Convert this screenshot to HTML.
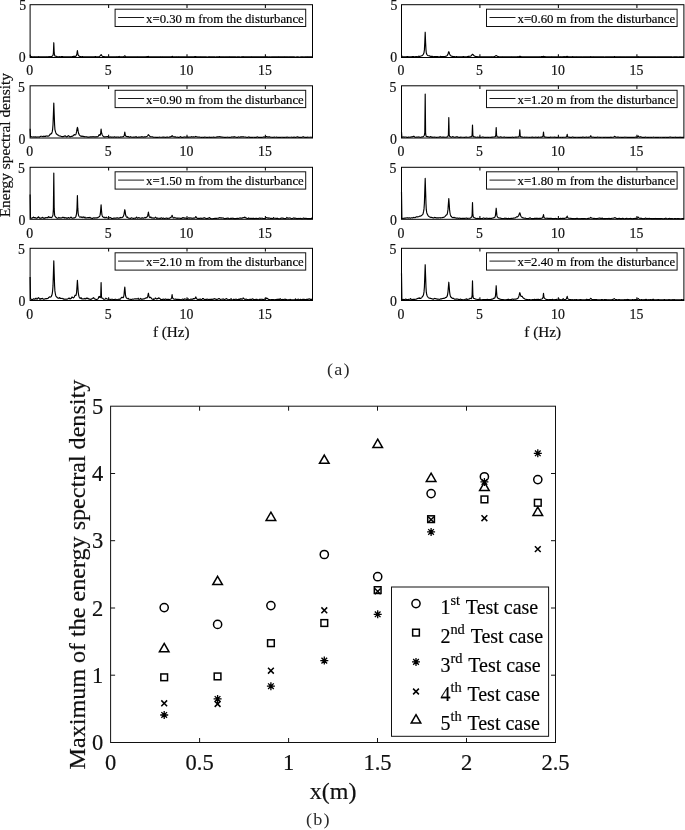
<!DOCTYPE html>
<html lang="en"><head><meta charset="utf-8"><title>Energy spectral density</title>
<style>
html,body{margin:0;padding:0;background:#fff}
body{width:685px;height:830px;overflow:hidden}
svg{display:block}
svg text{font-family:"Liberation Serif","DejaVu Serif",serif;stroke:#000;stroke-width:.18px}
svg text.cap{stroke:none}
</style></head><body>
<svg width="685" height="830" viewBox="0 0 685 830">
<rect width="685" height="830" fill="#fff"/>
<g>
<polyline points="30.1,54.6 30.5,56.7 30.9,56.7 31.3,56.6 31.7,56.8 32.1,56.8 32.5,56.9 32.9,56.9 33.3,56.9 33.6,56.8 34.0,56.8 34.4,56.7 34.8,56.8 35.2,56.8 35.6,56.7 36.0,56.7 36.4,56.7 36.8,56.7 37.2,56.8 37.6,56.8 38.0,56.8 38.4,56.7 38.8,56.6 39.2,56.7 39.6,56.8 40.0,56.9 40.4,56.9 40.7,56.9 41.1,56.9 41.5,56.9 41.9,56.9 42.3,56.9 42.7,56.9 43.1,56.9 43.5,56.9 43.9,56.9 44.3,56.8 44.7,56.7 45.1,56.7 45.5,56.7 45.9,56.8 46.3,56.8 46.7,56.7 47.1,56.8 47.5,56.8 47.8,56.8 48.2,56.8 48.6,56.8 49.0,56.6 49.4,56.6 49.8,56.7 50.2,56.7 50.6,56.6 51.0,56.6 51.4,56.6 51.8,56.4 52.2,56.1 52.6,55.9 53.0,55.3 53.4,53.0 53.8,42.7 54.2,52.9 54.6,55.2 54.9,55.9 55.3,56.1 55.7,56.3 56.1,56.4 56.5,56.4 56.9,56.5 57.3,56.7 57.7,56.8 58.1,56.8 58.5,56.8 58.9,56.8 59.3,56.7 59.7,56.6 60.1,56.7 60.5,56.8 60.9,56.7 61.3,56.6 61.7,56.7 62.0,56.6 62.4,56.7 62.8,56.6 63.2,56.7 63.6,56.8 64.0,56.8 64.4,56.8 64.8,56.8 65.2,56.9 65.6,56.8 66.0,56.7 66.4,56.7 66.8,56.8 67.2,56.8 67.6,56.8 68.0,56.7 68.4,56.7 68.8,56.7 69.1,56.8 69.5,56.8 69.9,56.8 70.3,56.7 70.7,56.8 71.1,56.8 71.5,56.8 71.9,56.7 72.3,56.6 72.7,56.5 73.1,56.5 73.5,56.4 73.9,56.3 74.3,56.3 74.7,56.4 75.1,56.4 75.5,56.4 75.9,56.2 76.2,55.9 76.6,55.1 77.0,53.2 77.4,50.6 77.8,53.3 78.2,55.1 78.6,55.7 79.0,56.1 79.4,56.3 79.8,56.5 80.2,56.6 80.6,56.5 81.0,56.6 81.4,56.7 81.8,56.7 82.2,56.7 82.6,56.5 83.0,56.7 83.3,56.7 83.7,56.8 84.1,56.8 84.5,56.8 84.9,56.8 85.3,56.7 85.7,56.7 86.1,56.8 86.5,56.8 86.9,56.8 87.3,56.8 87.7,56.9 88.1,56.9 88.5,56.9 88.9,56.9 89.3,56.8 89.7,56.9 90.0,56.8 90.4,56.8 90.8,56.8 91.2,56.8 91.6,56.9 92.0,56.9 92.4,56.8 92.8,56.8 93.2,56.9 93.6,56.9 94.0,56.9 94.4,56.8 94.8,56.8 95.2,56.6 95.6,56.6 96.0,56.7 96.4,56.8 96.8,56.8 97.1,56.8 97.5,56.8 97.9,56.8 98.3,56.7 98.7,56.7 99.1,56.6 99.5,56.4 99.9,56.1 100.3,55.8 100.7,55.2 101.1,54.6 101.5,55.1 101.9,55.8 102.3,56.2 102.7,56.4 103.1,56.5 103.5,56.6 103.9,56.6 104.2,56.6 104.6,56.7 105.0,56.7 105.4,56.8 105.8,56.7 106.2,56.7 106.6,56.8 107.0,56.9 107.4,56.9 107.8,56.8 108.2,56.8 108.6,56.8 109.0,56.7 109.4,56.7 109.8,56.7 110.2,56.8 110.6,56.8 111.0,56.7 111.3,56.7 111.7,56.7 112.1,56.8 112.5,56.8 112.9,56.8 113.3,56.8 113.7,56.8 114.1,56.8 114.5,56.8 114.9,56.9 115.3,56.9 115.7,56.9 116.1,56.9 116.5,56.7 116.9,56.8 117.3,56.7 117.7,56.8 118.1,56.8 118.4,56.8 118.8,56.6 119.2,56.4 119.6,56.7 120.0,56.8 120.4,56.9 120.8,56.8 121.2,56.8 121.6,56.8 122.0,56.8 122.4,56.8 122.8,56.8 123.2,56.7 123.6,56.6 124.0,56.4 124.4,56.1 124.8,55.8 125.2,56.1 125.5,56.5 125.9,56.7 126.3,56.7 126.7,56.8 127.1,56.8 127.5,56.8 127.9,56.9 128.3,56.9 128.7,56.9 129.1,56.9 129.5,56.9 129.9,56.8 130.3,56.8 130.7,56.8 131.1,56.9 131.5,56.9 131.9,56.9 132.3,56.8 132.6,56.8 133.0,56.8 133.4,56.8 133.8,56.9 134.2,56.9 134.6,56.9 135.0,56.9 135.4,56.9 135.8,56.9 136.2,56.9 136.6,56.9 137.0,56.9 137.4,56.8 137.8,56.7 138.2,56.8 138.6,56.9 139.0,56.9 139.4,56.9 139.7,56.9 140.1,56.8 140.5,56.9 140.9,56.9 141.3,56.9 141.7,56.9 142.1,56.9 142.5,56.9 142.9,56.9 143.3,56.9 143.7,56.9 144.1,56.8 144.5,56.8 144.9,56.8 145.3,56.8 145.7,56.7 146.1,56.8 146.5,56.7 146.8,56.6 147.2,56.5 147.6,56.5 148.0,56.5 148.4,56.4 148.8,56.6 149.2,56.7 149.6,56.7 150.0,56.7 150.4,56.8 150.8,56.8 151.2,56.9 151.6,56.9 152.0,56.9 152.4,56.9 152.8,56.8 153.2,56.8 153.5,56.8 153.9,56.8 154.3,56.8 154.7,56.9 155.1,56.9 155.5,56.9 155.9,56.8 156.3,56.8 156.7,56.8 157.1,56.9 157.5,56.9 157.9,56.9 158.3,56.9 158.7,56.9 159.1,56.9 159.5,56.9 159.9,56.8 160.3,56.7 160.6,56.8 161.0,56.8 161.4,56.9 161.8,56.8 162.2,56.7 162.6,56.8 163.0,56.8 163.4,56.9 163.8,56.8 164.2,56.8 164.6,56.9 165.0,56.9 165.4,56.8 165.8,56.8 166.2,56.8 166.6,56.8 167.0,56.9 167.4,56.9 167.7,56.9 168.1,56.9 168.5,56.9 168.9,56.9 169.3,56.9 169.7,56.9 170.1,56.9 170.5,56.8 170.9,56.8 171.3,56.8 171.7,56.7 172.1,56.3 172.5,56.5 172.9,56.7 173.3,56.7 173.7,56.8 174.1,56.9 174.5,56.9 174.8,56.9 175.2,56.9 175.6,56.9 176.0,56.8 176.4,56.8 176.8,56.7 177.2,56.8 177.6,56.9 178.0,56.9 178.4,56.8 178.8,56.7 179.2,56.9 179.6,56.9 180.0,56.9 180.4,56.9 180.8,56.9 181.2,56.9 181.6,56.9 181.9,56.8 182.3,56.9 182.7,56.9 183.1,56.9 183.5,56.9 183.9,56.9 184.3,56.9 184.7,56.9 185.1,57.0 185.5,56.9 185.9,56.9 186.3,56.9 186.7,56.9 187.1,56.9 187.5,56.9 187.9,56.9 188.3,56.9 188.7,56.9 189.0,56.9 189.4,56.9 189.8,56.9 190.2,56.9 190.6,56.9 191.0,56.9 191.4,56.8 191.8,56.8 192.2,56.9 192.6,56.9 193.0,56.9 193.4,56.9 193.8,56.8 194.2,56.7 194.6,56.6 195.0,56.7 195.4,56.6 195.8,56.5 196.1,56.7 196.5,56.8 196.9,56.9 197.3,56.9 197.7,56.9 198.1,56.9 198.5,56.8 198.9,56.8 199.3,56.8 199.7,56.8 200.1,56.8 200.5,56.7 200.9,56.8 201.3,56.8 201.7,56.9 202.1,56.9 202.5,56.9 202.9,56.8 203.2,56.8 203.6,56.8 204.0,56.9 204.4,56.9 204.8,56.9 205.2,56.9 205.6,56.8 206.0,56.9 206.4,56.9 206.8,57.0 207.2,57.0 207.6,57.0 208.0,56.9 208.4,56.9 208.8,56.9 209.2,56.7 209.6,56.8 209.9,56.8 210.3,56.9 210.7,56.9 211.1,56.8 211.5,56.9 211.9,56.9 212.3,56.9 212.7,56.9 213.1,56.9 213.5,56.9 213.9,56.8 214.3,56.8 214.7,56.9 215.1,56.9 215.5,57.0 215.9,57.0 216.3,56.9 216.7,56.9 217.0,56.9 217.4,56.8 217.8,56.9 218.2,56.9 218.6,56.8 219.0,56.8 219.4,56.6 219.8,56.8 220.2,56.9 220.6,56.9 221.0,56.9 221.4,56.9 221.8,56.9 222.2,56.9 222.6,56.9 223.0,56.9 223.4,56.9 223.8,56.9 224.1,56.9 224.5,56.9 224.9,57.0 225.3,56.9 225.7,56.9 226.1,56.9 226.5,56.9 226.9,56.9 227.3,56.9 227.7,56.9 228.1,56.9 228.5,56.9 228.9,56.9 229.3,56.9 229.7,56.7 230.1,56.8 230.5,56.8 230.9,56.9 231.2,56.9 231.6,56.9 232.0,56.9 232.4,56.8 232.8,56.8 233.2,56.9 233.6,56.9 234.0,56.9 234.4,56.9 234.8,56.8 235.2,56.9 235.6,56.9 236.0,57.0 236.4,57.0 236.8,56.9 237.2,56.9 237.6,56.8 238.0,56.8 238.3,56.9 238.7,56.9 239.1,56.9 239.5,56.9 239.9,57.0 240.3,57.0 240.7,57.0 241.1,56.9 241.5,56.9 241.9,56.9 242.3,56.9 242.7,56.8 243.1,56.6 243.5,56.7 243.9,56.8 244.3,56.8 244.7,56.8 245.1,56.9 245.4,56.8 245.8,56.9 246.2,56.9 246.6,56.9 247.0,56.8 247.4,56.9 247.8,56.8 248.2,56.8 248.6,56.9 249.0,56.9 249.4,56.9 249.8,56.9 250.2,56.9 250.6,56.9 251.0,56.9 251.4,56.9 251.8,56.7 252.2,56.8 252.5,56.9 252.9,56.9 253.3,56.8 253.7,56.9 254.1,56.9 254.5,56.9 254.9,56.9 255.3,56.8 255.7,56.8 256.1,56.8 256.5,56.9 256.9,56.9 257.3,56.8 257.7,56.9 258.1,56.9 258.5,56.9 258.9,56.9 259.3,57.0 259.6,56.9 260.0,56.9 260.4,56.9 260.8,56.8 261.2,56.9 261.6,56.9 262.0,56.9 262.4,56.9 262.8,56.9 263.2,56.9 263.6,56.9 264.0,56.8 264.4,56.8 264.8,56.8 265.2,56.8 265.6,56.9 266.0,56.9 266.4,56.8 266.7,56.7 267.1,56.8 267.5,56.9 267.9,56.9 268.3,56.9 268.7,57.0 269.1,57.0 269.5,56.9 269.9,56.9 270.3,56.9 270.7,57.0 271.1,57.0 271.5,56.9 271.9,56.9 272.3,56.9 272.7,56.9 273.1,56.9 273.4,56.9 273.8,56.9 274.2,56.8 274.6,56.9 275.0,56.9 275.4,56.9 275.8,56.9 276.2,56.9 276.6,56.9 277.0,56.9 277.4,56.9 277.8,56.8 278.2,56.7 278.6,56.9 279.0,56.9 279.4,56.8 279.8,56.8 280.2,56.8 280.5,56.7 280.9,56.7 281.3,56.8 281.7,56.9 282.1,56.9 282.5,56.9 282.9,56.9 283.3,56.9 283.7,56.9 284.1,56.9 284.5,56.8 284.9,56.7 285.3,56.8 285.7,56.9 286.1,56.9 286.5,56.8 286.9,56.8 287.3,56.9 287.6,56.9 288.0,56.9 288.4,57.0 288.8,56.9 289.2,56.9 289.6,56.9 290.0,56.9 290.4,56.9 290.8,56.9 291.2,56.9 291.6,56.9 292.0,56.9 292.4,56.9 292.8,56.9 293.2,56.9 293.6,56.9 294.0,56.9 294.4,56.9 294.7,57.0 295.1,57.0 295.5,57.0 295.9,57.0 296.3,57.0 296.7,56.9 297.1,56.9 297.5,56.9 297.9,56.9 298.3,56.9 298.7,57.0 299.1,57.0 299.5,57.0 299.9,57.0 300.3,57.0 300.7,56.9 301.1,56.9 301.5,56.8 301.8,56.8 302.2,56.8 302.6,56.9 303.0,56.9 303.4,56.9 303.8,57.0 304.2,57.0 304.6,56.9 305.0,56.9 305.4,56.8 305.8,56.8 306.2,56.8 306.6,56.9 307.0,56.8 307.4,56.7 307.8,56.8 308.2,56.9 308.6,56.9 308.9,56.9 309.3,56.9 309.7,56.9 310.1,56.9 310.5,56.9 310.9,56.9 311.3,56.8 311.7,56.8 312.1,56.7 312.5,56.9" fill="none" stroke="#000" stroke-width="1.15" stroke-linejoin="round"/>
<rect x="30.1" y="4.7" width="282.4" height="52.8" fill="none" stroke="#000" stroke-width="1.0"/>
<path d="M108.6 57.5v-3.3M108.6 4.7v3.3" stroke="#111" stroke-width="1.1"/>
<path d="M187.0 57.5v-3.3M187.0 4.7v3.3" stroke="#111" stroke-width="1.1"/>
<path d="M265.4 57.5v-3.3M265.4 4.7v3.3" stroke="#111" stroke-width="1.1"/>
<text x="29.6" y="75.0" font-size="13.8" text-anchor="middle" fill="#111">0</text>
<text x="108.1" y="75.0" font-size="13.8" text-anchor="middle" fill="#111">5</text>
<text x="186.5" y="75.0" font-size="13.8" text-anchor="middle" fill="#111">10</text>
<text x="264.9" y="75.0" font-size="13.8" text-anchor="middle" fill="#111">15</text>
<text x="26.1" y="9.5" font-size="13.8" text-anchor="end" fill="#111">5</text>
<text x="25.7" y="61.7" font-size="13.8" text-anchor="end" fill="#111">0</text>
<rect x="115.1" y="9.2" width="190.6" height="17.3" fill="#fff" stroke="#111" stroke-width="1.0"/>
<path d="M118.1 17.5H144.1" stroke="#000" stroke-width="0.9"/>
<text x="146.1" y="22.6" font-size="12.75" fill="#000">x=0.30 m from the disturbance</text>
</g>
<g>
<polyline points="401.5,54.8 401.9,56.9 402.3,56.9 402.7,56.9 403.1,56.8 403.5,56.7 403.9,56.7 404.3,56.8 404.7,56.8 405.0,56.8 405.4,56.8 405.8,56.7 406.2,56.7 406.6,56.7 407.0,56.5 407.4,56.6 407.8,56.6 408.2,56.8 408.6,56.8 409.0,56.8 409.4,56.7 409.8,56.7 410.2,56.7 410.6,56.8 411.0,56.8 411.4,56.8 411.8,56.7 412.1,56.6 412.5,56.6 412.9,56.6 413.3,56.6 413.7,56.6 414.1,56.7 414.5,56.8 414.9,56.8 415.3,56.7 415.7,56.6 416.1,56.5 416.5,56.6 416.9,56.7 417.3,56.7 417.7,56.6 418.1,56.4 418.5,56.2 418.9,56.3 419.2,56.3 419.6,56.3 420.0,56.3 420.4,56.2 420.8,56.1 421.2,55.9 421.6,55.7 422.0,55.7 422.4,55.4 422.8,55.0 423.2,54.5 423.6,53.9 424.0,52.6 424.4,49.9 424.8,42.3 425.2,32.2 425.6,42.5 426.0,50.0 426.3,52.8 426.7,54.1 427.1,54.8 427.5,55.2 427.9,55.5 428.3,55.7 428.7,55.7 429.1,55.8 429.5,55.8 429.9,56.1 430.3,56.2 430.7,56.4 431.1,56.3 431.5,56.4 431.9,56.3 432.3,56.3 432.7,56.5 433.1,56.6 433.4,56.7 433.8,56.7 434.2,56.6 434.6,56.6 435.0,56.5 435.4,56.6 435.8,56.6 436.2,56.6 436.6,56.6 437.0,56.5 437.4,56.6 437.8,56.6 438.2,56.7 438.6,56.7 439.0,56.7 439.4,56.7 439.8,56.7 440.2,56.6 440.5,56.4 440.9,56.4 441.3,56.6 441.7,56.6 442.1,56.7 442.5,56.6 442.9,56.6 443.3,56.6 443.7,56.6 444.1,56.6 444.5,56.5 444.9,56.5 445.3,56.4 445.7,56.3 446.1,56.2 446.5,56.0 446.9,55.7 447.3,55.4 447.6,54.9 448.0,54.0 448.4,52.6 448.8,51.7 449.2,52.6 449.6,53.9 450.0,54.9 450.4,55.4 450.8,55.8 451.2,56.0 451.6,56.2 452.0,56.3 452.4,56.4 452.8,56.5 453.2,56.6 453.6,56.6 454.0,56.5 454.4,56.5 454.7,56.6 455.1,56.7 455.5,56.7 455.9,56.7 456.3,56.6 456.7,56.6 457.1,56.7 457.5,56.7 457.9,56.7 458.3,56.7 458.7,56.7 459.1,56.7 459.5,56.7 459.9,56.8 460.3,56.8 460.7,56.8 461.1,56.8 461.4,56.8 461.8,56.8 462.2,56.8 462.6,56.7 463.0,56.6 463.4,56.6 463.8,56.6 464.2,56.7 464.6,56.8 465.0,56.8 465.4,56.7 465.8,56.7 466.2,56.7 466.6,56.7 467.0,56.7 467.4,56.6 467.8,56.5 468.2,56.4 468.5,56.4 468.9,56.3 469.3,56.3 469.7,56.2 470.1,56.2 470.5,56.2 470.9,56.0 471.3,55.6 471.7,55.2 472.1,54.6 472.5,54.3 472.9,54.5 473.3,54.9 473.7,55.4 474.1,55.7 474.5,56.1 474.9,56.3 475.3,56.4 475.6,56.5 476.0,56.5 476.4,56.5 476.8,56.5 477.2,56.6 477.6,56.7 478.0,56.7 478.4,56.7 478.8,56.7 479.2,56.7 479.6,56.7 480.0,56.7 480.4,56.8 480.8,56.8 481.2,56.8 481.6,56.8 482.0,56.8 482.4,56.7 482.7,56.7 483.1,56.7 483.5,56.7 483.9,56.8 484.3,56.8 484.7,56.8 485.1,56.8 485.5,56.8 485.9,56.8 486.3,56.8 486.7,56.8 487.1,56.8 487.5,56.8 487.9,56.8 488.3,56.9 488.7,56.9 489.1,56.9 489.5,56.8 489.8,56.8 490.2,56.8 490.6,56.8 491.0,56.8 491.4,56.7 491.8,56.8 492.2,56.8 492.6,56.8 493.0,56.8 493.4,56.7 493.8,56.7 494.2,56.6 494.6,56.5 495.0,56.3 495.4,56.0 495.8,55.7 496.2,55.6 496.6,55.7 496.9,56.1 497.3,56.3 497.7,56.5 498.1,56.6 498.5,56.6 498.9,56.7 499.3,56.7 499.7,56.8 500.1,56.8 500.5,56.9 500.9,56.9 501.3,56.8 501.7,56.8 502.1,56.8 502.5,56.8 502.9,56.7 503.3,56.8 503.7,56.9 504.0,56.9 504.4,56.9 504.8,56.9 505.2,56.9 505.6,56.9 506.0,56.9 506.4,56.9 506.8,56.9 507.2,56.9 507.6,56.9 508.0,56.8 508.4,56.8 508.8,56.8 509.2,56.8 509.6,56.8 510.0,56.8 510.4,56.8 510.8,56.8 511.1,56.7 511.5,56.8 511.9,56.8 512.3,56.9 512.7,56.9 513.1,56.9 513.5,56.9 513.9,56.9 514.3,56.9 514.7,56.9 515.1,56.8 515.5,56.8 515.9,56.8 516.3,56.8 516.7,56.8 517.1,56.8 517.5,56.7 517.9,56.6 518.2,56.7 518.6,56.7 519.0,56.6 519.4,56.4 519.8,56.3 520.2,56.3 520.6,56.5 521.0,56.6 521.4,56.7 521.8,56.8 522.2,56.8 522.6,56.8 523.0,56.8 523.4,56.9 523.8,56.9 524.2,56.9 524.6,56.9 524.9,56.9 525.3,56.9 525.7,56.8 526.1,56.8 526.5,56.8 526.9,56.8 527.3,56.8 527.7,56.8 528.1,56.7 528.5,56.7 528.9,56.8 529.3,56.9 529.7,56.9 530.1,56.8 530.5,56.8 530.9,56.8 531.3,56.8 531.7,56.9 532.0,56.9 532.4,56.9 532.8,56.9 533.2,56.8 533.6,56.8 534.0,56.9 534.4,56.9 534.8,56.9 535.2,56.9 535.6,56.9 536.0,56.9 536.4,56.9 536.8,56.9 537.2,56.8 537.6,56.8 538.0,56.8 538.4,56.8 538.8,56.8 539.1,56.8 539.5,56.7 539.9,56.8 540.3,56.8 540.7,56.8 541.1,56.7 541.5,56.6 541.9,56.6 542.3,56.6 542.7,56.6 543.1,56.4 543.5,56.4 543.9,56.5 544.3,56.6 544.7,56.7 545.1,56.6 545.5,56.7 545.9,56.8 546.2,56.9 546.6,56.8 547.0,56.8 547.4,56.8 547.8,56.8 548.2,56.8 548.6,56.8 549.0,56.8 549.4,56.8 549.8,56.9 550.2,56.9 550.6,56.9 551.0,56.9 551.4,56.8 551.8,56.7 552.2,56.9 552.6,56.9 553.0,56.9 553.3,56.8 553.7,56.8 554.1,56.8 554.5,56.8 554.9,56.8 555.3,56.9 555.7,56.9 556.1,56.8 556.5,56.8 556.9,56.8 557.3,56.9 557.7,56.8 558.1,56.9 558.5,56.9 558.9,56.9 559.3,56.9 559.7,56.9 560.1,56.9 560.4,56.7 560.8,56.8 561.2,56.9 561.6,56.9 562.0,56.8 562.4,56.8 562.8,56.7 563.2,56.6 563.6,56.7 564.0,56.7 564.4,56.6 564.8,56.7 565.2,56.7 565.6,56.8 566.0,56.6 566.4,56.6 566.8,56.4 567.2,56.4 567.5,56.5 567.9,56.6 568.3,56.7 568.7,56.8 569.1,56.8 569.5,56.9 569.9,56.8 570.3,56.8 570.7,56.8 571.1,56.8 571.5,56.8 571.9,56.7 572.3,56.7 572.7,56.6 573.1,56.8 573.5,56.9 573.9,56.9 574.3,56.9 574.6,56.9 575.0,56.9 575.4,56.9 575.8,56.9 576.2,56.8 576.6,56.7 577.0,56.8 577.4,56.8 577.8,56.9 578.2,56.9 578.6,56.9 579.0,56.9 579.4,56.9 579.8,56.9 580.2,56.9 580.6,56.9 581.0,56.9 581.3,56.9 581.7,56.9 582.1,56.9 582.5,57.0 582.9,56.9 583.3,56.9 583.7,56.9 584.1,56.8 584.5,56.8 584.9,56.9 585.3,56.9 585.7,56.9 586.1,56.9 586.5,56.9 586.9,56.9 587.3,56.9 587.7,56.9 588.1,56.9 588.4,56.9 588.8,56.9 589.2,56.9 589.6,56.8 590.0,56.7 590.4,56.7 590.8,56.6 591.2,56.7 591.6,56.8 592.0,56.8 592.4,56.9 592.8,56.8 593.2,56.8 593.6,56.7 594.0,56.8 594.4,56.9 594.8,56.9 595.2,56.9 595.5,56.9 595.9,56.9 596.3,56.9 596.7,56.9 597.1,56.8 597.5,56.8 597.9,56.8 598.3,56.9 598.7,56.9 599.1,56.9 599.5,56.8 599.9,56.8 600.3,56.8 600.7,56.8 601.1,56.8 601.5,56.9 601.9,56.9 602.3,56.9 602.6,56.9 603.0,56.8 603.4,56.8 603.8,56.9 604.2,56.9 604.6,57.0 605.0,57.0 605.4,56.9 605.8,56.9 606.2,56.9 606.6,56.9 607.0,56.9 607.4,56.9 607.8,56.9 608.2,56.8 608.6,56.7 609.0,56.7 609.4,56.8 609.7,56.9 610.1,56.8 610.5,56.9 610.9,56.8 611.3,56.8 611.7,56.8 612.1,56.9 612.5,56.9 612.9,56.9 613.3,56.9 613.7,56.8 614.1,56.7 614.5,56.5 614.9,56.7 615.3,56.8 615.7,56.8 616.1,56.9 616.5,56.9 616.8,56.9 617.2,56.9 617.6,56.9 618.0,56.9 618.4,56.9 618.8,56.9 619.2,56.9 619.6,56.8 620.0,56.7 620.4,56.8 620.8,56.8 621.2,56.9 621.6,56.9 622.0,56.9 622.4,56.9 622.8,56.9 623.2,56.9 623.6,56.9 623.9,56.9 624.3,56.9 624.7,56.9 625.1,57.0 625.5,56.9 625.9,56.9 626.3,56.9 626.7,56.9 627.1,56.8 627.5,56.8 627.9,56.8 628.3,56.9 628.7,56.9 629.1,56.9 629.5,56.8 629.9,56.8 630.3,56.9 630.7,56.9 631.0,56.9 631.4,56.8 631.8,56.8 632.2,56.8 632.6,56.9 633.0,56.9 633.4,56.9 633.8,56.8 634.2,56.8 634.6,56.8 635.0,56.8 635.4,56.8 635.8,56.8 636.2,56.8 636.6,56.9 637.0,56.9 637.4,56.8 637.8,56.8 638.1,56.6 638.5,56.8 638.9,56.9 639.3,56.9 639.7,56.8 640.1,56.9 640.5,56.9 640.9,56.8 641.3,56.8 641.7,56.8 642.1,56.8 642.5,56.8 642.9,56.8 643.3,56.8 643.7,56.8 644.1,56.8 644.5,56.9 644.8,56.9 645.2,56.9 645.6,56.9 646.0,56.8 646.4,56.9 646.8,56.9 647.2,56.9 647.6,56.9 648.0,56.9 648.4,56.9 648.8,56.9 649.2,56.9 649.6,56.9 650.0,56.9 650.4,56.9 650.8,56.9 651.2,56.9 651.6,56.9 651.9,56.9 652.3,56.9 652.7,56.9 653.1,56.9 653.5,56.9 653.9,56.9 654.3,56.9 654.7,56.9 655.1,56.9 655.5,56.9 655.9,56.9 656.3,57.0 656.7,56.9 657.1,56.9 657.5,56.9 657.9,56.8 658.3,56.8 658.7,56.8 659.0,56.9 659.4,56.9 659.8,56.9 660.2,56.9 660.6,56.9 661.0,56.9 661.4,56.9 661.8,56.9 662.2,56.9 662.6,56.9 663.0,56.9 663.4,56.9 663.8,56.9 664.2,56.8 664.6,56.8 665.0,56.9 665.4,56.9 665.8,56.9 666.1,56.9 666.5,56.9 666.9,56.9 667.3,56.9 667.7,56.9 668.1,56.9 668.5,56.9 668.9,56.8 669.3,56.8 669.7,56.9 670.1,56.9 670.5,56.9 670.9,56.9 671.3,56.9 671.7,56.9 672.1,56.9 672.5,57.0 672.9,57.0 673.2,57.0 673.6,56.9 674.0,56.9 674.4,56.9 674.8,56.9 675.2,56.9 675.6,56.9 676.0,56.9 676.4,56.9 676.8,56.9 677.2,57.0 677.6,56.9 678.0,57.0 678.4,57.0 678.8,56.9 679.2,56.9 679.6,56.9 680.0,56.9 680.3,56.9 680.7,56.9 681.1,56.9 681.5,56.9 681.9,56.9 682.3,56.8 682.7,56.8 683.1,56.9 683.5,56.9 683.9,56.8" fill="none" stroke="#000" stroke-width="1.15" stroke-linejoin="round"/>
<rect x="401.5" y="4.7" width="282.4" height="52.8" fill="none" stroke="#000" stroke-width="1.0"/>
<path d="M479.9 57.5v-3.3M479.9 4.7v3.3" stroke="#111" stroke-width="1.1"/>
<path d="M558.4 57.5v-3.3M558.4 4.7v3.3" stroke="#111" stroke-width="1.1"/>
<path d="M636.9 57.5v-3.3M636.9 4.7v3.3" stroke="#111" stroke-width="1.1"/>
<text x="401.0" y="75.0" font-size="13.8" text-anchor="middle" fill="#111">0</text>
<text x="479.4" y="75.0" font-size="13.8" text-anchor="middle" fill="#111">5</text>
<text x="557.9" y="75.0" font-size="13.8" text-anchor="middle" fill="#111">10</text>
<text x="636.4" y="75.0" font-size="13.8" text-anchor="middle" fill="#111">15</text>
<text x="397.5" y="9.5" font-size="13.8" text-anchor="end" fill="#111">5</text>
<text x="397.1" y="61.7" font-size="13.8" text-anchor="end" fill="#111">0</text>
<rect x="486.5" y="9.2" width="190.6" height="17.3" fill="#fff" stroke="#111" stroke-width="1.0"/>
<path d="M489.5 17.5H515.5" stroke="#000" stroke-width="0.9"/>
<text x="517.5" y="22.6" font-size="12.75" fill="#000">x=0.60 m from the disturbance</text>
</g>
<g>
<polyline points="30.1,128.7 30.5,136.8 30.9,136.6 31.3,136.7 31.7,136.7 32.1,137.0 32.5,137.0 32.9,137.0 33.3,137.0 33.6,136.9 34.0,136.9 34.4,136.9 34.8,137.1 35.2,137.1 35.6,136.8 36.0,136.9 36.4,137.1 36.8,137.1 37.2,137.0 37.6,137.0 38.0,136.9 38.4,137.0 38.8,137.0 39.2,137.1 39.6,137.0 40.0,136.5 40.4,136.5 40.7,136.3 41.1,136.2 41.5,136.2 41.9,136.3 42.3,136.5 42.7,136.5 43.1,136.6 43.5,136.2 43.9,136.3 44.3,136.3 44.7,136.3 45.1,136.4 45.5,136.2 45.9,136.4 46.3,136.1 46.7,135.9 47.1,136.1 47.5,136.1 47.8,136.0 48.2,136.1 48.6,136.1 49.0,135.9 49.4,135.4 49.8,134.9 50.2,134.0 50.6,134.2 51.0,133.9 51.4,133.8 51.8,133.1 52.2,131.9 52.6,129.6 53.0,124.7 53.4,114.2 53.8,103.0 54.2,114.2 54.6,124.7 54.9,129.3 55.3,131.1 55.7,132.4 56.1,133.4 56.5,134.1 56.9,134.3 57.3,134.6 57.7,135.0 58.1,135.0 58.5,135.4 58.9,135.7 59.3,135.9 59.7,136.0 60.1,135.9 60.5,136.1 60.9,136.2 61.3,136.4 61.7,136.6 62.0,136.6 62.4,136.6 62.8,136.5 63.2,136.6 63.6,136.5 64.0,136.2 64.4,136.0 64.8,136.1 65.2,135.8 65.6,136.1 66.0,136.6 66.4,136.8 66.8,136.8 67.2,136.7 67.6,136.3 68.0,136.1 68.4,135.6 68.8,135.9 69.1,136.2 69.5,136.7 69.9,136.8 70.3,136.8 70.7,136.6 71.1,136.5 71.5,136.3 71.9,136.3 72.3,136.3 72.7,136.1 73.1,135.8 73.5,135.4 73.9,135.0 74.3,134.5 74.7,134.9 75.1,134.9 75.5,134.7 75.9,134.3 76.2,133.4 76.6,131.7 77.0,129.1 77.4,127.4 77.8,128.5 78.2,131.4 78.6,133.3 79.0,134.3 79.4,135.0 79.8,135.4 80.2,135.7 80.6,136.0 81.0,136.3 81.4,136.4 81.8,136.0 82.2,136.3 82.6,136.4 83.0,136.1 83.3,136.4 83.7,136.6 84.1,136.7 84.5,136.6 84.9,136.8 85.3,136.7 85.7,136.8 86.1,136.7 86.5,136.8 86.9,136.8 87.3,137.0 87.7,137.1 88.1,137.2 88.5,137.1 88.9,137.1 89.3,137.1 89.7,137.0 90.0,136.9 90.4,136.9 90.8,136.9 91.2,136.8 91.6,136.8 92.0,137.0 92.4,136.9 92.8,136.8 93.2,136.6 93.6,136.9 94.0,137.0 94.4,136.9 94.8,136.8 95.2,136.8 95.6,136.8 96.0,136.8 96.4,136.7 96.8,136.9 97.1,136.9 97.5,136.8 97.9,136.5 98.3,136.1 98.7,135.6 99.1,134.6 99.5,135.0 99.9,135.3 100.3,134.8 100.7,132.9 101.1,129.1 101.5,132.5 101.9,134.1 102.3,135.0 102.7,135.5 103.1,136.1 103.5,136.5 103.9,136.7 104.2,136.9 104.6,136.9 105.0,136.8 105.4,136.8 105.8,136.7 106.2,136.6 106.6,136.7 107.0,136.7 107.4,136.5 107.8,136.5 108.2,136.7 108.6,137.0 109.0,137.1 109.4,137.1 109.8,137.0 110.2,136.9 110.6,137.0 111.0,137.1 111.3,137.2 111.7,137.1 112.1,137.0 112.5,137.0 112.9,137.1 113.3,137.2 113.7,137.1 114.1,137.0 114.5,136.8 114.9,136.9 115.3,137.1 115.7,137.3 116.1,137.2 116.5,137.0 116.9,137.1 117.3,137.0 117.7,137.0 118.1,137.0 118.4,137.1 118.8,137.0 119.2,137.2 119.6,137.2 120.0,137.2 120.4,137.0 120.8,136.9 121.2,137.0 121.6,137.0 122.0,136.9 122.4,136.7 122.8,136.7 123.2,136.7 123.6,136.5 124.0,136.0 124.4,134.6 124.8,132.1 125.2,134.6 125.5,135.9 125.9,136.1 126.3,136.4 126.7,136.5 127.1,136.6 127.5,136.6 127.9,136.6 128.3,136.5 128.7,136.9 129.1,137.1 129.5,137.1 129.9,137.0 130.3,136.7 130.7,136.9 131.1,136.9 131.5,137.1 131.9,137.2 132.3,137.2 132.6,137.2 133.0,137.0 133.4,137.1 133.8,137.0 134.2,137.1 134.6,137.1 135.0,137.1 135.4,137.0 135.8,136.8 136.2,136.6 136.6,137.2 137.0,137.3 137.4,137.3 137.8,137.2 138.2,137.1 138.6,137.1 139.0,137.0 139.4,137.1 139.7,137.1 140.1,137.1 140.5,137.0 140.9,137.0 141.3,136.7 141.7,136.8 142.1,136.8 142.5,136.9 142.9,136.9 143.3,137.1 143.7,137.1 144.1,136.9 144.5,136.8 144.9,136.8 145.3,136.9 145.7,136.9 146.1,136.8 146.5,136.6 146.8,136.4 147.2,136.2 147.6,135.8 148.0,135.2 148.4,134.7 148.8,135.1 149.2,135.7 149.6,136.2 150.0,136.3 150.4,136.7 150.8,136.8 151.2,136.8 151.6,136.7 152.0,136.7 152.4,136.7 152.8,137.0 153.2,137.1 153.5,137.2 153.9,137.3 154.3,137.2 154.7,137.3 155.1,137.2 155.5,137.3 155.9,137.3 156.3,137.3 156.7,137.3 157.1,137.3 157.5,137.3 157.9,137.3 158.3,137.3 158.7,137.2 159.1,137.2 159.5,137.1 159.9,137.2 160.3,137.2 160.6,137.2 161.0,137.2 161.4,137.3 161.8,137.2 162.2,137.2 162.6,137.1 163.0,137.1 163.4,137.0 163.8,137.1 164.2,137.1 164.6,137.2 165.0,137.3 165.4,137.3 165.8,137.3 166.2,137.2 166.6,137.1 167.0,137.1 167.4,137.1 167.7,137.1 168.1,137.2 168.5,137.2 168.9,137.2 169.3,137.1 169.7,137.0 170.1,136.7 170.5,136.9 170.9,136.9 171.3,136.6 171.7,136.1 172.1,135.7 172.5,136.0 172.9,136.4 173.3,136.7 173.7,136.8 174.1,136.9 174.5,136.9 174.8,136.9 175.2,136.8 175.6,136.9 176.0,137.2 176.4,137.2 176.8,137.2 177.2,137.0 177.6,137.2 178.0,137.3 178.4,137.4 178.8,137.3 179.2,137.3 179.6,137.2 180.0,137.0 180.4,136.5 180.8,137.0 181.2,137.1 181.6,137.3 181.9,137.3 182.3,137.3 182.7,137.3 183.1,137.2 183.5,137.1 183.9,137.1 184.3,136.9 184.7,137.0 185.1,137.1 185.5,137.1 185.9,137.0 186.3,137.0 186.7,137.0 187.1,136.9 187.5,136.9 187.9,137.1 188.3,137.0 188.7,137.2 189.0,137.2 189.4,137.0 189.8,137.0 190.2,137.0 190.6,137.1 191.0,136.9 191.4,136.6 191.8,136.9 192.2,137.0 192.6,137.0 193.0,136.8 193.4,136.9 193.8,136.9 194.2,137.0 194.6,137.0 195.0,136.9 195.4,136.6 195.8,136.4 196.1,136.6 196.5,136.7 196.9,136.8 197.3,137.0 197.7,137.0 198.1,137.1 198.5,137.0 198.9,137.0 199.3,137.0 199.7,137.1 200.1,137.2 200.5,137.2 200.9,137.3 201.3,137.3 201.7,137.3 202.1,137.3 202.5,137.2 202.9,137.3 203.2,137.3 203.6,137.3 204.0,137.3 204.4,137.1 204.8,137.2 205.2,137.1 205.6,137.2 206.0,137.3 206.4,137.4 206.8,137.4 207.2,137.4 207.6,137.4 208.0,137.4 208.4,137.3 208.8,137.2 209.2,137.1 209.6,137.3 209.9,137.3 210.3,137.3 210.7,137.3 211.1,137.2 211.5,137.3 211.9,137.3 212.3,137.2 212.7,137.3 213.1,137.2 213.5,137.0 213.9,137.1 214.3,137.2 214.7,137.3 215.1,137.3 215.5,137.2 215.9,137.2 216.3,137.1 216.7,137.0 217.0,136.9 217.4,136.9 217.8,136.9 218.2,136.9 218.6,136.7 219.0,136.7 219.4,136.6 219.8,136.7 220.2,136.9 220.6,136.9 221.0,136.9 221.4,137.0 221.8,137.1 222.2,137.2 222.6,137.1 223.0,137.1 223.4,137.2 223.8,137.3 224.1,137.3 224.5,137.3 224.9,137.3 225.3,137.4 225.7,137.4 226.1,137.4 226.5,137.3 226.9,137.2 227.3,137.1 227.7,137.2 228.1,137.2 228.5,137.3 228.9,137.4 229.3,137.4 229.7,137.4 230.1,137.4 230.5,137.3 230.9,137.2 231.2,137.1 231.6,137.0 232.0,136.9 232.4,137.0 232.8,137.0 233.2,137.1 233.6,137.0 234.0,136.7 234.4,137.0 234.8,136.9 235.2,137.0 235.6,137.0 236.0,137.2 236.4,137.3 236.8,137.4 237.2,137.4 237.6,137.2 238.0,137.1 238.3,136.9 238.7,137.0 239.1,137.0 239.5,137.2 239.9,137.2 240.3,137.0 240.7,136.8 241.1,136.8 241.5,136.8 241.9,136.9 242.3,136.9 242.7,136.8 243.1,136.7 243.5,136.9 243.9,137.0 244.3,137.0 244.7,137.0 245.1,137.0 245.4,137.0 245.8,137.1 246.2,137.2 246.6,137.3 247.0,137.3 247.4,137.3 247.8,137.3 248.2,137.2 248.6,137.0 249.0,136.8 249.4,137.2 249.8,137.4 250.2,137.4 250.6,137.4 251.0,137.4 251.4,137.4 251.8,137.4 252.2,137.4 252.5,137.4 252.9,137.3 253.3,137.2 253.7,137.2 254.1,137.3 254.5,137.3 254.9,137.4 255.3,137.4 255.7,137.4 256.1,137.4 256.5,137.2 256.9,136.9 257.3,136.9 257.7,137.0 258.1,137.2 258.5,137.4 258.9,137.4 259.3,137.4 259.6,137.4 260.0,137.3 260.4,137.4 260.8,137.3 261.2,137.3 261.6,137.4 262.0,137.4 262.4,137.3 262.8,137.2 263.2,137.1 263.6,137.0 264.0,136.8 264.4,137.0 264.8,137.1 265.2,136.9 265.6,136.9 266.0,136.7 266.4,136.5 266.7,136.5 267.1,136.6 267.5,136.9 267.9,137.1 268.3,137.0 268.7,136.8 269.1,136.7 269.5,136.9 269.9,137.0 270.3,137.1 270.7,137.2 271.1,137.2 271.5,137.3 271.9,137.2 272.3,137.3 272.7,137.3 273.1,137.3 273.4,137.3 273.8,137.2 274.2,137.0 274.6,137.1 275.0,137.2 275.4,137.2 275.8,137.2 276.2,137.2 276.6,137.0 277.0,137.2 277.4,137.3 277.8,137.3 278.2,137.3 278.6,137.3 279.0,137.3 279.4,137.3 279.8,137.3 280.2,137.3 280.5,137.3 280.9,137.3 281.3,137.2 281.7,137.3 282.1,137.2 282.5,137.3 282.9,137.4 283.3,137.4 283.7,137.4 284.1,137.4 284.5,137.3 284.9,137.3 285.3,137.2 285.7,137.3 286.1,137.3 286.5,137.3 286.9,137.1 287.3,137.0 287.6,137.1 288.0,137.2 288.4,137.3 288.8,137.3 289.2,137.3 289.6,137.2 290.0,137.2 290.4,137.2 290.8,137.2 291.2,137.2 291.6,137.1 292.0,137.2 292.4,137.3 292.8,137.4 293.2,137.4 293.6,137.2 294.0,136.9 294.4,137.2 294.7,137.3 295.1,137.4 295.5,137.4 295.9,137.3 296.3,137.2 296.7,137.0 297.1,136.9 297.5,136.8 297.9,137.1 298.3,137.1 298.7,137.3 299.1,137.3 299.5,137.3 299.9,137.4 300.3,137.3 300.7,137.3 301.1,137.3 301.5,137.3 301.8,137.3 302.2,137.2 302.6,137.0 303.0,136.8 303.4,136.8 303.8,136.9 304.2,137.2 304.6,137.3 305.0,137.3 305.4,137.4 305.8,137.4 306.2,137.4 306.6,137.4 307.0,137.4 307.4,137.3 307.8,137.1 308.2,137.2 308.6,137.3 308.9,137.2 309.3,137.2 309.7,137.2 310.1,137.2 310.5,137.2 310.9,137.1 311.3,137.2 311.7,137.3 312.1,137.2 312.5,137.3" fill="none" stroke="#000" stroke-width="1.15" stroke-linejoin="round"/>
<rect x="30.1" y="85.8" width="282.4" height="52.2" fill="none" stroke="#000" stroke-width="1.0"/>
<path d="M108.6 138.0v-3.3M108.6 85.8v3.3" stroke="#111" stroke-width="1.1"/>
<path d="M187.0 138.0v-3.3M187.0 85.8v3.3" stroke="#111" stroke-width="1.1"/>
<path d="M265.4 138.0v-3.3M265.4 85.8v3.3" stroke="#111" stroke-width="1.1"/>
<text x="29.6" y="156.3" font-size="13.8" text-anchor="middle" fill="#111">0</text>
<text x="108.1" y="156.3" font-size="13.8" text-anchor="middle" fill="#111">5</text>
<text x="186.5" y="156.3" font-size="13.8" text-anchor="middle" fill="#111">10</text>
<text x="264.9" y="156.3" font-size="13.8" text-anchor="middle" fill="#111">15</text>
<text x="24.9" y="91.8" font-size="13.8" text-anchor="end" fill="#111">5</text>
<text x="25.5" y="143.7" font-size="13.8" text-anchor="end" fill="#111">0</text>
<rect x="115.1" y="90.3" width="190.6" height="17.3" fill="#fff" stroke="#111" stroke-width="1.0"/>
<path d="M118.1 98.5H144.1" stroke="#000" stroke-width="0.9"/>
<text x="146.1" y="103.7" font-size="12.75" fill="#000">x=0.90 m from the disturbance</text>
</g>
<g>
<polyline points="401.5,132.0 401.9,137.2 402.3,137.1 402.7,137.0 403.1,137.1 403.5,137.0 403.9,136.9 404.3,137.1 404.7,137.1 405.0,137.0 405.4,137.0 405.8,137.0 406.2,137.0 406.6,137.2 407.0,137.4 407.4,137.4 407.8,137.4 408.2,137.3 408.6,137.1 409.0,137.1 409.4,137.2 409.8,137.2 410.2,137.1 410.6,137.1 411.0,137.0 411.4,136.9 411.8,137.0 412.1,136.9 412.5,136.7 412.9,136.5 413.3,136.4 413.7,136.4 414.1,136.3 414.5,136.9 414.9,137.1 415.3,137.3 415.7,137.2 416.1,137.2 416.5,137.1 416.9,137.0 417.3,137.0 417.7,137.2 418.1,137.1 418.5,137.0 418.9,136.9 419.2,137.0 419.6,137.2 420.0,137.2 420.4,137.3 420.8,137.3 421.2,137.2 421.6,137.0 422.0,136.9 422.4,137.0 422.8,136.9 423.2,136.8 423.6,136.2 424.0,135.8 424.4,135.2 424.8,132.7 425.2,94.1 425.6,133.0 426.0,135.8 426.3,136.4 426.7,136.5 427.1,136.7 427.5,136.6 427.9,136.8 428.3,136.7 428.7,136.9 429.1,137.1 429.5,137.1 429.9,137.0 430.3,136.7 430.7,136.5 431.1,136.9 431.5,137.1 431.9,137.3 432.3,137.3 432.7,137.1 433.1,137.0 433.4,137.1 433.8,137.2 434.2,137.2 434.6,137.0 435.0,137.1 435.4,137.2 435.8,137.2 436.2,137.3 436.6,137.3 437.0,137.3 437.4,137.2 437.8,137.3 438.2,137.2 438.6,137.2 439.0,137.1 439.4,137.2 439.8,136.8 440.2,136.8 440.5,136.8 440.9,136.9 441.3,137.1 441.7,137.2 442.1,137.2 442.5,137.1 442.9,137.1 443.3,137.1 443.7,137.1 444.1,137.2 444.5,137.2 444.9,137.1 445.3,137.2 445.7,137.2 446.1,137.2 446.5,137.1 446.9,137.0 447.3,136.9 447.6,136.7 448.0,136.2 448.4,134.8 448.8,117.6 449.2,134.8 449.6,136.3 450.0,136.6 450.4,136.8 450.8,137.0 451.2,137.2 451.6,137.2 452.0,137.0 452.4,136.8 452.8,136.5 453.2,136.8 453.6,137.0 454.0,137.1 454.4,137.2 454.7,137.2 455.1,137.2 455.5,137.1 455.9,137.0 456.3,136.8 456.7,136.8 457.1,136.7 457.5,137.0 457.9,137.1 458.3,137.2 458.7,137.3 459.1,137.3 459.5,137.3 459.9,137.3 460.3,137.3 460.7,137.1 461.1,137.1 461.4,137.2 461.8,137.2 462.2,137.2 462.6,137.2 463.0,137.2 463.4,137.2 463.8,137.3 464.2,137.3 464.6,137.4 465.0,137.3 465.4,137.2 465.8,137.0 466.2,137.1 466.6,137.1 467.0,137.2 467.4,137.2 467.8,137.3 468.2,137.2 468.5,137.2 468.9,137.2 469.3,137.1 469.7,137.1 470.1,136.9 470.5,136.9 470.9,136.9 471.3,136.7 471.7,136.5 472.1,135.3 472.5,125.0 472.9,135.3 473.3,136.5 473.7,136.8 474.1,136.8 474.5,136.9 474.9,137.0 475.3,137.1 475.6,137.1 476.0,137.2 476.4,137.2 476.8,137.2 477.2,137.2 477.6,137.0 478.0,137.1 478.4,137.2 478.8,137.3 479.2,137.3 479.6,137.1 480.0,137.3 480.4,137.3 480.8,137.3 481.2,137.3 481.6,137.2 482.0,137.1 482.4,137.1 482.7,136.9 483.1,137.1 483.5,137.1 483.9,137.2 484.3,137.3 484.7,137.3 485.1,137.3 485.5,137.3 485.9,137.3 486.3,137.3 486.7,137.3 487.1,137.2 487.5,137.3 487.9,137.3 488.3,137.3 488.7,137.3 489.1,137.3 489.5,137.2 489.8,137.2 490.2,137.3 490.6,137.3 491.0,137.3 491.4,137.3 491.8,137.1 492.2,137.0 492.6,137.1 493.0,137.1 493.4,137.0 493.8,137.0 494.2,137.0 494.6,136.9 495.0,136.7 495.4,136.5 495.8,135.2 496.2,127.6 496.6,135.2 496.9,136.4 497.3,136.8 497.7,137.0 498.1,137.0 498.5,137.1 498.9,137.1 499.3,137.2 499.7,137.1 500.1,136.9 500.5,136.9 500.9,137.0 501.3,137.1 501.7,137.1 502.1,137.2 502.5,137.2 502.9,137.2 503.3,137.2 503.7,137.1 504.0,136.9 504.4,137.0 504.8,137.2 505.2,137.2 505.6,137.3 506.0,137.3 506.4,137.3 506.8,137.2 507.2,137.3 507.6,137.3 508.0,137.3 508.4,137.3 508.8,137.3 509.2,137.3 509.6,137.4 510.0,137.4 510.4,137.4 510.8,137.4 511.1,137.3 511.5,137.3 511.9,137.2 512.3,137.0 512.7,137.2 513.1,137.3 513.5,137.3 513.9,137.3 514.3,137.2 514.7,137.2 515.1,137.1 515.5,137.1 515.9,137.1 516.3,137.1 516.7,137.1 517.1,137.0 517.5,137.0 517.9,137.0 518.2,137.0 518.6,136.8 519.0,136.6 519.4,135.5 519.8,129.9 520.2,135.4 520.6,136.6 521.0,136.9 521.4,137.0 521.8,136.9 522.2,137.0 522.6,137.1 523.0,137.2 523.4,137.2 523.8,137.2 524.2,137.2 524.6,137.1 524.9,137.1 525.3,137.2 525.7,137.2 526.1,137.3 526.5,137.2 526.9,137.1 527.3,137.2 527.7,137.2 528.1,137.2 528.5,137.2 528.9,137.3 529.3,137.3 529.7,137.3 530.1,137.2 530.5,137.2 530.9,137.3 531.3,137.3 531.7,137.2 532.0,137.0 532.4,137.1 532.8,137.1 533.2,137.2 533.6,137.3 534.0,137.3 534.4,137.3 534.8,137.2 535.2,137.2 535.6,137.1 536.0,137.1 536.4,137.2 536.8,137.3 537.2,137.3 537.6,137.3 538.0,137.3 538.4,137.0 538.8,137.1 539.1,137.2 539.5,137.2 539.9,137.2 540.3,137.2 540.7,137.1 541.1,137.1 541.5,137.1 541.9,137.0 542.3,136.7 542.7,136.6 543.1,135.7 543.5,132.0 543.9,135.8 544.3,136.7 544.7,137.0 545.1,137.1 545.5,137.0 545.9,137.0 546.2,137.2 546.6,137.3 547.0,137.2 547.4,137.3 547.8,137.3 548.2,137.3 548.6,137.3 549.0,137.4 549.4,137.4 549.8,137.3 550.2,137.3 550.6,137.1 551.0,137.1 551.4,137.2 551.8,137.3 552.2,137.2 552.6,137.2 553.0,137.1 553.3,137.2 553.7,137.3 554.1,137.3 554.5,137.1 554.9,137.1 555.3,137.3 555.7,137.4 556.1,137.4 556.5,137.4 556.9,137.4 557.3,137.4 557.7,137.4 558.1,137.3 558.5,137.3 558.9,137.3 559.3,137.2 559.7,137.2 560.1,137.3 560.4,137.3 560.8,137.3 561.2,137.2 561.6,137.2 562.0,137.3 562.4,137.3 562.8,137.4 563.2,137.3 563.6,137.2 564.0,137.3 564.4,137.2 564.8,137.2 565.2,137.2 565.6,137.2 566.0,137.0 566.4,136.9 566.8,136.4 567.2,134.3 567.5,136.5 567.9,137.0 568.3,137.0 568.7,137.1 569.1,137.1 569.5,137.3 569.9,137.3 570.3,137.3 570.7,137.3 571.1,137.3 571.5,137.3 571.9,137.3 572.3,137.1 572.7,136.9 573.1,137.1 573.5,137.3 573.9,137.3 574.3,137.3 574.6,137.3 575.0,137.4 575.4,137.4 575.8,137.3 576.2,137.3 576.6,137.2 577.0,137.2 577.4,137.3 577.8,137.4 578.2,137.4 578.6,137.4 579.0,137.4 579.4,137.3 579.8,137.3 580.2,137.3 580.6,137.2 581.0,137.4 581.3,137.4 581.7,137.3 582.1,137.3 582.5,137.1 582.9,137.1 583.3,137.0 583.7,137.2 584.1,137.3 584.5,137.3 584.9,137.3 585.3,137.3 585.7,137.2 586.1,137.0 586.5,137.1 586.9,137.1 587.3,137.2 587.7,137.3 588.1,137.3 588.4,137.3 588.8,137.1 589.2,137.1 589.6,137.1 590.0,136.9 590.4,136.6 590.8,135.7 591.2,136.6 591.6,137.0 592.0,137.2 592.4,137.2 592.8,137.1 593.2,137.1 593.6,137.2 594.0,137.3 594.4,137.4 594.8,137.4 595.2,137.4 595.5,137.3 595.9,137.3 596.3,137.3 596.7,137.3 597.1,137.2 597.5,137.0 597.9,137.1 598.3,137.2 598.7,137.3 599.1,137.2 599.5,137.3 599.9,137.3 600.3,137.4 600.7,137.3 601.1,137.3 601.5,137.2 601.9,137.2 602.3,137.2 602.6,137.2 603.0,137.3 603.4,137.4 603.8,137.4 604.2,137.4 604.6,137.4 605.0,137.3 605.4,137.3 605.8,137.2 606.2,137.3 606.6,137.3 607.0,137.3 607.4,137.3 607.8,137.3 608.2,137.3 608.6,137.3 609.0,137.3 609.4,137.3 609.7,137.3 610.1,137.3 610.5,137.3 610.9,137.1 611.3,137.3 611.7,137.3 612.1,137.2 612.5,137.2 612.9,137.2 613.3,137.2 613.7,137.0 614.1,136.7 614.5,136.3 614.9,136.5 615.3,136.7 615.7,137.0 616.1,137.1 616.5,137.2 616.8,137.2 617.2,137.1 617.6,137.1 618.0,137.1 618.4,137.0 618.8,137.2 619.2,137.2 619.6,137.3 620.0,137.3 620.4,137.2 620.8,137.3 621.2,137.3 621.6,137.4 622.0,137.4 622.4,137.3 622.8,137.3 623.2,137.3 623.6,137.3 623.9,137.2 624.3,137.1 624.7,137.2 625.1,137.3 625.5,137.2 625.9,137.1 626.3,137.2 626.7,137.2 627.1,137.4 627.5,137.4 627.9,137.4 628.3,137.3 628.7,137.3 629.1,137.4 629.5,137.4 629.9,137.4 630.3,137.4 630.7,137.4 631.0,137.3 631.4,137.3 631.8,137.3 632.2,137.4 632.6,137.4 633.0,137.4 633.4,137.3 633.8,137.3 634.2,137.3 634.6,137.3 635.0,137.2 635.4,137.0 635.8,137.1 636.2,137.1 636.6,137.1 637.0,137.1 637.4,136.9 637.8,136.4 638.1,135.8 638.5,136.3 638.9,136.8 639.3,137.0 639.7,137.1 640.1,137.0 640.5,136.8 640.9,136.7 641.3,137.1 641.7,137.2 642.1,137.3 642.5,137.3 642.9,137.3 643.3,137.3 643.7,137.3 644.1,137.4 644.5,137.4 644.8,137.2 645.2,137.1 645.6,137.1 646.0,137.2 646.4,137.3 646.8,137.4 647.2,137.4 647.6,137.4 648.0,137.4 648.4,137.4 648.8,137.4 649.2,137.4 649.6,137.3 650.0,137.2 650.4,137.2 650.8,137.4 651.2,137.4 651.6,137.4 651.9,137.4 652.3,137.3 652.7,137.2 653.1,137.2 653.5,137.1 653.9,137.2 654.3,137.2 654.7,137.3 655.1,137.4 655.5,137.4 655.9,137.3 656.3,137.3 656.7,137.4 657.1,137.4 657.5,137.4 657.9,137.4 658.3,137.4 658.7,137.4 659.0,137.3 659.4,137.2 659.8,137.2 660.2,137.3 660.6,137.4 661.0,137.3 661.4,137.2 661.8,137.2 662.2,137.3 662.6,137.4 663.0,137.4 663.4,137.4 663.8,137.3 664.2,137.4 664.6,137.4 665.0,137.3 665.4,137.2 665.8,137.3 666.1,137.3 666.5,137.4 666.9,137.4 667.3,137.4 667.7,137.4 668.1,137.4 668.5,137.4 668.9,137.3 669.3,137.2 669.7,137.0 670.1,137.1 670.5,137.0 670.9,137.1 671.3,137.2 671.7,137.3 672.1,137.3 672.5,137.3 672.9,137.3 673.2,137.3 673.6,137.3 674.0,137.3 674.4,137.3 674.8,137.2 675.2,137.1 675.6,137.3 676.0,137.3 676.4,137.4 676.8,137.4 677.2,137.4 677.6,137.4 678.0,137.4 678.4,137.4 678.8,137.4 679.2,137.4 679.6,137.4 680.0,137.1 680.3,137.2 680.7,137.4 681.1,137.4 681.5,137.4 681.9,137.4 682.3,137.4 682.7,137.4 683.1,137.4 683.5,137.4 683.9,137.4" fill="none" stroke="#000" stroke-width="1.15" stroke-linejoin="round"/>
<rect x="401.5" y="85.8" width="282.4" height="52.2" fill="none" stroke="#000" stroke-width="1.0"/>
<path d="M479.9 138.0v-3.3M479.9 85.8v3.3" stroke="#111" stroke-width="1.1"/>
<path d="M558.4 138.0v-3.3M558.4 85.8v3.3" stroke="#111" stroke-width="1.1"/>
<path d="M636.9 138.0v-3.3M636.9 85.8v3.3" stroke="#111" stroke-width="1.1"/>
<text x="401.0" y="156.3" font-size="13.8" text-anchor="middle" fill="#111">0</text>
<text x="479.4" y="156.3" font-size="13.8" text-anchor="middle" fill="#111">5</text>
<text x="557.9" y="156.3" font-size="13.8" text-anchor="middle" fill="#111">10</text>
<text x="636.4" y="156.3" font-size="13.8" text-anchor="middle" fill="#111">15</text>
<text x="396.3" y="91.8" font-size="13.8" text-anchor="end" fill="#111">5</text>
<text x="396.9" y="143.7" font-size="13.8" text-anchor="end" fill="#111">0</text>
<rect x="486.5" y="90.3" width="190.6" height="17.3" fill="#fff" stroke="#111" stroke-width="1.0"/>
<path d="M489.5 98.5H515.5" stroke="#000" stroke-width="0.9"/>
<text x="517.5" y="103.7" font-size="12.75" fill="#000">x=1.20 m from the disturbance</text>
</g>
<g>
<polyline points="30.1,194.4 30.5,218.1 30.9,218.3 31.3,218.2 31.7,218.2 32.1,217.8 32.5,218.0 32.9,217.8 33.3,217.3 33.6,217.1 34.0,217.4 34.4,217.7 34.8,217.6 35.2,218.0 35.6,217.8 36.0,217.9 36.4,218.2 36.8,218.2 37.2,218.0 37.6,217.6 38.0,217.4 38.4,216.8 38.8,217.3 39.2,217.6 39.6,218.1 40.0,218.3 40.4,218.1 40.7,218.2 41.1,218.2 41.5,217.8 41.9,217.8 42.3,217.3 42.7,217.6 43.1,217.6 43.5,218.1 43.9,218.4 44.3,218.4 44.7,218.1 45.1,217.6 45.5,217.8 45.9,217.8 46.3,217.7 46.7,217.6 47.1,217.6 47.5,217.7 47.8,217.7 48.2,216.9 48.6,216.6 49.0,217.1 49.4,217.1 49.8,217.5 50.2,217.5 50.6,217.3 51.0,217.5 51.4,217.6 51.8,217.4 52.2,216.8 52.6,216.2 53.0,214.8 53.4,208.7 53.8,173.1 54.2,208.9 54.6,214.8 54.9,216.0 55.3,216.6 55.7,217.2 56.1,217.3 56.5,217.7 56.9,218.1 57.3,218.2 57.7,218.2 58.1,218.0 58.5,217.9 58.9,217.4 59.3,217.9 59.7,217.9 60.1,218.1 60.5,217.9 60.9,217.9 61.3,218.0 61.7,218.0 62.0,217.8 62.4,217.3 62.8,217.3 63.2,217.6 63.6,217.5 64.0,217.3 64.4,217.8 64.8,218.1 65.2,217.7 65.6,217.8 66.0,217.7 66.4,218.1 66.8,218.3 67.2,218.3 67.6,218.1 68.0,217.8 68.4,217.5 68.8,217.9 69.1,218.0 69.5,218.2 69.9,218.0 70.3,217.6 70.7,217.2 71.1,217.1 71.5,217.7 71.9,218.0 72.3,218.1 72.7,218.2 73.1,218.1 73.5,218.0 73.9,217.8 74.3,217.8 74.7,217.8 75.1,217.6 75.5,217.3 75.9,216.6 76.2,215.5 76.6,213.1 77.0,208.1 77.4,195.6 77.8,208.4 78.2,213.6 78.6,215.4 79.0,216.2 79.4,216.8 79.8,217.2 80.2,217.2 80.6,217.0 81.0,216.6 81.4,217.1 81.8,217.5 82.2,217.6 82.6,217.1 83.0,217.1 83.3,216.8 83.7,217.2 84.1,217.6 84.5,217.6 84.9,217.0 85.3,217.9 85.7,218.0 86.1,217.9 86.5,218.0 86.9,217.9 87.3,217.9 87.7,217.6 88.1,217.7 88.5,217.6 88.9,218.0 89.3,217.7 89.7,217.4 90.0,217.4 90.4,217.9 90.8,217.9 91.2,218.2 91.6,218.2 92.0,218.4 92.4,218.3 92.8,218.3 93.2,218.0 93.6,218.0 94.0,217.7 94.4,218.0 94.8,218.1 95.2,218.0 95.6,217.9 96.0,217.9 96.4,218.0 96.8,217.8 97.1,217.9 97.5,217.8 97.9,217.5 98.3,217.2 98.7,217.1 99.1,216.8 99.5,216.5 99.9,215.7 100.3,214.0 100.7,209.7 101.1,204.9 101.5,210.5 101.9,214.6 102.3,215.9 102.7,216.7 103.1,217.1 103.5,217.4 103.9,217.5 104.2,217.2 104.6,217.8 105.0,217.9 105.4,217.8 105.8,217.5 106.2,217.2 106.6,217.5 107.0,217.9 107.4,218.0 107.8,218.0 108.2,218.1 108.6,218.0 109.0,217.9 109.4,217.7 109.8,217.8 110.2,217.7 110.6,217.5 111.0,218.0 111.3,218.2 111.7,218.5 112.1,218.5 112.5,218.5 112.9,218.4 113.3,218.2 113.7,218.1 114.1,218.0 114.5,218.1 114.9,218.1 115.3,218.0 115.7,218.2 116.1,218.2 116.5,218.0 116.9,217.8 117.3,217.9 117.7,217.8 118.1,218.2 118.4,218.2 118.8,218.1 119.2,218.1 119.6,217.8 120.0,217.8 120.4,217.4 120.8,217.6 121.2,217.7 121.6,217.6 122.0,217.4 122.4,217.4 122.8,217.0 123.2,216.6 123.6,215.6 124.0,214.3 124.4,211.9 124.8,209.7 125.2,211.7 125.5,214.1 125.9,215.8 126.3,216.7 126.7,217.3 127.1,217.4 127.5,216.9 127.9,217.7 128.3,218.0 128.7,218.1 129.1,218.2 129.5,218.2 129.9,218.3 130.3,218.3 130.7,218.3 131.1,218.1 131.5,217.8 131.9,217.9 132.3,218.1 132.6,218.2 133.0,218.3 133.4,218.3 133.8,218.4 134.2,218.3 134.6,218.2 135.0,218.1 135.4,218.3 135.8,218.0 136.2,217.8 136.6,217.1 137.0,217.7 137.4,218.1 137.8,218.2 138.2,217.9 138.6,217.6 139.0,217.8 139.4,217.8 139.7,218.0 140.1,218.1 140.5,218.2 140.9,218.2 141.3,218.3 141.7,218.1 142.1,217.7 142.5,218.0 142.9,218.1 143.3,218.0 143.7,218.1 144.1,217.9 144.5,217.7 144.9,217.4 145.3,217.5 145.7,217.9 146.1,217.6 146.5,217.3 146.8,217.0 147.2,216.7 147.6,216.2 148.0,214.5 148.4,212.1 148.8,214.4 149.2,216.4 149.6,217.3 150.0,217.4 150.4,217.2 150.8,216.9 151.2,217.6 151.6,217.8 152.0,218.1 152.4,217.9 152.8,217.8 153.2,217.8 153.5,218.0 153.9,218.2 154.3,218.2 154.7,217.9 155.1,217.5 155.5,217.2 155.9,217.5 156.3,218.0 156.7,218.3 157.1,218.3 157.5,218.0 157.9,218.2 158.3,218.2 158.7,218.3 159.1,218.2 159.5,218.2 159.9,218.4 160.3,218.4 160.6,218.2 161.0,217.9 161.4,217.9 161.8,218.0 162.2,218.4 162.6,218.5 163.0,218.3 163.4,218.1 163.8,218.1 164.2,218.4 164.6,218.6 165.0,218.5 165.4,218.3 165.8,218.2 166.2,218.1 166.6,218.0 167.0,218.3 167.4,218.4 167.7,218.4 168.1,218.2 168.5,218.2 168.9,218.3 169.3,218.3 169.7,218.1 170.1,217.8 170.5,217.3 170.9,217.3 171.3,217.2 171.7,216.5 172.1,215.3 172.5,216.4 172.9,217.4 173.3,217.9 173.7,218.0 174.1,217.9 174.5,217.6 174.8,217.3 175.2,217.7 175.6,218.0 176.0,218.0 176.4,218.0 176.8,218.3 177.2,218.3 177.6,218.1 178.0,218.3 178.4,218.2 178.8,218.0 179.2,218.1 179.6,218.2 180.0,218.3 180.4,218.4 180.8,218.4 181.2,218.3 181.6,218.5 181.9,218.3 182.3,218.1 182.7,217.6 183.1,217.7 183.5,217.9 183.9,217.6 184.3,218.1 184.7,218.1 185.1,218.1 185.5,218.1 185.9,218.0 186.3,218.3 186.7,218.4 187.1,218.5 187.5,218.4 187.9,218.3 188.3,218.1 188.7,217.8 189.0,217.7 189.4,218.1 189.8,218.3 190.2,218.2 190.6,217.8 191.0,217.9 191.4,218.1 191.8,218.3 192.2,218.3 192.6,218.2 193.0,218.0 193.4,218.2 193.8,218.0 194.2,218.2 194.6,218.0 195.0,217.9 195.4,217.3 195.8,216.5 196.1,217.2 196.5,217.7 196.9,218.2 197.3,218.3 197.7,218.3 198.1,218.3 198.5,218.4 198.9,218.4 199.3,218.4 199.7,218.3 200.1,218.4 200.5,218.3 200.9,218.1 201.3,218.2 201.7,218.4 202.1,218.4 202.5,218.3 202.9,218.2 203.2,218.1 203.6,218.1 204.0,217.8 204.4,217.7 204.8,218.0 205.2,218.1 205.6,218.2 206.0,218.4 206.4,218.5 206.8,218.6 207.2,218.5 207.6,218.4 208.0,218.3 208.4,218.0 208.8,218.1 209.2,217.8 209.6,217.6 209.9,218.1 210.3,218.4 210.7,218.4 211.1,218.6 211.5,218.7 211.9,218.7 212.3,218.7 212.7,218.7 213.1,218.6 213.5,218.5 213.9,218.5 214.3,218.5 214.7,218.4 215.1,218.3 215.5,218.4 215.9,218.4 216.3,218.4 216.7,218.3 217.0,218.3 217.4,218.2 217.8,218.2 218.2,218.1 218.6,218.2 219.0,217.9 219.4,217.6 219.8,217.8 220.2,218.0 220.6,217.8 221.0,217.9 221.4,217.8 221.8,218.1 222.2,218.0 222.6,218.0 223.0,217.9 223.4,218.1 223.8,218.3 224.1,218.6 224.5,218.6 224.9,218.6 225.3,218.6 225.7,218.5 226.1,218.3 226.5,218.4 226.9,218.5 227.3,218.3 227.7,218.1 228.1,218.0 228.5,218.4 228.9,218.5 229.3,218.7 229.7,218.7 230.1,218.6 230.5,218.4 230.9,218.1 231.2,218.4 231.6,218.3 232.0,218.3 232.4,218.4 232.8,218.1 233.2,218.3 233.6,218.5 234.0,218.6 234.4,218.6 234.8,218.6 235.2,218.6 235.6,218.6 236.0,218.6 236.4,218.5 236.8,218.4 237.2,218.4 237.6,218.4 238.0,218.5 238.3,218.5 238.7,218.4 239.1,218.3 239.5,218.2 239.9,217.8 240.3,218.1 240.7,218.1 241.1,218.3 241.5,218.1 241.9,218.2 242.3,218.1 242.7,217.8 243.1,217.6 243.5,217.7 243.9,217.6 244.3,217.7 244.7,217.1 245.1,217.3 245.4,217.7 245.8,217.9 246.2,217.8 246.6,218.2 247.0,218.4 247.4,218.5 247.8,218.5 248.2,218.4 248.6,217.9 249.0,218.2 249.4,218.3 249.8,218.5 250.2,218.5 250.6,218.4 251.0,218.2 251.4,218.4 251.8,218.5 252.2,218.6 252.5,218.4 252.9,218.3 253.3,218.2 253.7,218.5 254.1,218.6 254.5,218.6 254.9,218.4 255.3,218.4 255.7,218.5 256.1,218.5 256.5,218.4 256.9,218.4 257.3,218.5 257.7,218.5 258.1,218.6 258.5,218.4 258.9,218.2 259.3,218.0 259.6,218.0 260.0,218.1 260.4,218.4 260.8,218.4 261.2,218.2 261.6,218.2 262.0,218.1 262.4,218.2 262.8,218.4 263.2,218.5 263.6,218.5 264.0,218.5 264.4,218.5 264.8,218.5 265.2,218.4 265.6,218.2 266.0,217.8 266.4,217.7 266.7,217.5 267.1,217.7 267.5,218.0 267.9,218.1 268.3,218.3 268.7,218.1 269.1,217.8 269.5,218.2 269.9,218.3 270.3,218.4 270.7,218.3 271.1,218.3 271.5,218.4 271.9,218.5 272.3,218.5 272.7,218.5 273.1,218.1 273.4,217.6 273.8,218.1 274.2,218.2 274.6,218.3 275.0,218.2 275.4,218.3 275.8,218.4 276.2,218.5 276.6,218.4 277.0,218.4 277.4,218.2 277.8,218.5 278.2,218.6 278.6,218.7 279.0,218.7 279.4,218.7 279.8,218.7 280.2,218.6 280.5,218.4 280.9,218.1 281.3,218.1 281.7,218.1 282.1,218.2 282.5,218.1 282.9,218.1 283.3,218.2 283.7,218.4 284.1,218.5 284.5,218.5 284.9,218.6 285.3,218.6 285.7,218.5 286.1,218.3 286.5,218.0 286.9,217.4 287.3,217.9 287.6,218.1 288.0,218.2 288.4,218.1 288.8,218.1 289.2,217.9 289.6,218.1 290.0,217.9 290.4,218.1 290.8,218.4 291.2,218.5 291.6,218.6 292.0,218.5 292.4,218.5 292.8,218.4 293.2,218.3 293.6,218.0 294.0,217.9 294.4,218.1 294.7,218.4 295.1,218.4 295.5,218.1 295.9,218.4 296.3,218.4 296.7,218.6 297.1,218.6 297.5,218.6 297.9,218.4 298.3,218.5 298.7,218.5 299.1,218.4 299.5,218.5 299.9,218.5 300.3,218.5 300.7,218.3 301.1,218.5 301.5,218.6 301.8,218.7 302.2,218.7 302.6,218.6 303.0,218.4 303.4,218.0 303.8,218.1 304.2,218.3 304.6,218.5 305.0,218.5 305.4,218.4 305.8,218.2 306.2,218.2 306.6,218.4 307.0,218.6 307.4,218.6 307.8,218.5 308.2,218.6 308.6,218.6 308.9,218.5 309.3,218.6 309.7,218.6 310.1,218.6 310.5,218.6 310.9,218.6 311.3,218.5 311.7,218.2 312.1,217.9 312.5,217.7" fill="none" stroke="#000" stroke-width="1.15" stroke-linejoin="round"/>
<rect x="30.1" y="167.3" width="282.4" height="52.0" fill="none" stroke="#000" stroke-width="1.0"/>
<path d="M108.6 219.3v-3.3M108.6 167.3v3.3" stroke="#111" stroke-width="1.1"/>
<path d="M187.0 219.3v-3.3M187.0 167.3v3.3" stroke="#111" stroke-width="1.1"/>
<path d="M265.4 219.3v-3.3M265.4 167.3v3.3" stroke="#111" stroke-width="1.1"/>
<text x="29.6" y="237.6" font-size="13.8" text-anchor="middle" fill="#111">0</text>
<text x="108.1" y="237.6" font-size="13.8" text-anchor="middle" fill="#111">5</text>
<text x="186.5" y="237.6" font-size="13.8" text-anchor="middle" fill="#111">10</text>
<text x="264.9" y="237.6" font-size="13.8" text-anchor="middle" fill="#111">15</text>
<text x="24.9" y="173.3" font-size="13.8" text-anchor="end" fill="#111">5</text>
<text x="25.5" y="225.2" font-size="13.8" text-anchor="end" fill="#111">0</text>
<rect x="115.1" y="171.8" width="190.6" height="17.3" fill="#fff" stroke="#111" stroke-width="1.0"/>
<path d="M118.1 180.1H144.1" stroke="#000" stroke-width="0.9"/>
<text x="146.1" y="185.2" font-size="12.75" fill="#000">x=1.50 m from the disturbance</text>
</g>
<g>
<polyline points="401.5,191.9 401.9,218.1 402.3,218.3 402.7,218.5 403.1,218.5 403.5,218.3 403.9,218.2 404.3,218.1 404.7,218.3 405.0,218.2 405.4,218.2 405.8,217.9 406.2,218.0 406.6,218.0 407.0,217.8 407.4,217.7 407.8,217.9 408.2,218.1 408.6,218.0 409.0,217.7 409.4,217.7 409.8,217.9 410.2,218.1 410.6,218.1 411.0,218.0 411.4,217.7 411.8,217.7 412.1,217.8 412.5,218.0 412.9,217.8 413.3,217.7 413.7,217.4 414.1,217.4 414.5,217.6 414.9,217.7 415.3,217.5 415.7,217.2 416.1,216.8 416.5,216.9 416.9,216.8 417.3,216.9 417.7,216.8 418.1,216.8 418.5,216.7 418.9,216.6 419.2,216.4 419.6,216.1 420.0,216.2 420.4,216.1 420.8,216.0 421.2,215.8 421.6,215.4 422.0,215.1 422.4,214.8 422.8,214.3 423.2,213.2 423.6,211.4 424.0,208.9 424.4,203.1 424.8,190.4 425.2,178.4 425.6,191.0 426.0,203.8 426.3,209.7 426.7,212.4 427.1,213.8 427.5,214.5 427.9,215.3 428.3,215.8 428.7,216.3 429.1,216.6 429.5,216.9 429.9,217.1 430.3,217.3 430.7,217.4 431.1,217.4 431.5,217.4 431.9,217.5 432.3,217.5 432.7,217.7 433.1,217.9 433.4,217.9 433.8,217.9 434.2,217.7 434.6,217.4 435.0,217.5 435.4,217.5 435.8,217.8 436.2,217.8 436.6,217.9 437.0,217.9 437.4,217.9 437.8,217.8 438.2,217.8 438.6,217.9 439.0,217.8 439.4,217.7 439.8,217.8 440.2,217.9 440.5,217.9 440.9,217.7 441.3,217.8 441.7,217.7 442.1,217.8 442.5,217.6 442.9,217.4 443.3,217.3 443.7,217.3 444.1,217.2 444.5,216.9 444.9,216.6 445.3,216.1 445.7,215.7 446.1,215.2 446.5,214.9 446.9,214.8 447.3,213.8 447.6,212.0 448.0,209.4 448.4,203.6 448.8,198.6 449.2,203.8 449.6,209.9 450.0,213.0 450.4,214.9 450.8,215.9 451.2,216.5 451.6,216.8 452.0,217.2 452.4,217.5 452.8,217.6 453.2,217.5 453.6,217.6 454.0,217.3 454.4,217.6 454.7,217.7 455.1,217.9 455.5,217.8 455.9,218.0 456.3,218.1 456.7,218.1 457.1,218.1 457.5,218.0 457.9,218.1 458.3,218.3 458.7,218.3 459.1,218.2 459.5,218.1 459.9,218.3 460.3,218.4 460.7,218.4 461.1,218.3 461.4,218.4 461.8,218.5 462.2,218.4 462.6,218.4 463.0,218.3 463.4,218.3 463.8,218.3 464.2,218.3 464.6,218.4 465.0,218.4 465.4,218.3 465.8,218.2 466.2,218.0 466.6,218.1 467.0,218.3 467.4,218.4 467.8,218.4 468.2,218.3 468.5,218.2 468.9,218.2 469.3,218.3 469.7,218.2 470.1,218.2 470.5,218.0 470.9,217.6 471.3,217.2 471.7,217.1 472.1,215.1 472.5,202.5 472.9,214.7 473.3,216.9 473.7,217.3 474.1,217.7 474.5,217.8 474.9,217.9 475.3,218.2 475.6,218.2 476.0,218.4 476.4,218.5 476.8,218.5 477.2,218.5 477.6,218.4 478.0,218.5 478.4,218.5 478.8,218.5 479.2,218.3 479.6,218.3 480.0,218.4 480.4,218.5 480.8,218.6 481.2,218.5 481.6,218.5 482.0,218.5 482.4,218.5 482.7,218.4 483.1,218.1 483.5,217.9 483.9,218.1 484.3,218.2 484.7,218.4 485.1,218.4 485.5,218.5 485.9,218.4 486.3,218.3 486.7,218.1 487.1,218.2 487.5,218.3 487.9,218.3 488.3,218.5 488.7,218.5 489.1,218.4 489.5,218.4 489.8,218.4 490.2,218.4 490.6,218.5 491.0,218.4 491.4,218.4 491.8,218.2 492.2,218.2 492.6,218.0 493.0,218.0 493.4,217.9 493.8,217.8 494.2,217.6 494.6,217.3 495.0,216.8 495.4,215.6 495.8,212.4 496.2,208.2 496.6,212.4 496.9,215.4 497.3,216.6 497.7,217.1 498.1,217.5 498.5,217.7 498.9,217.9 499.3,218.0 499.7,218.0 500.1,218.1 500.5,218.1 500.9,218.3 501.3,218.4 501.7,218.5 502.1,218.5 502.5,218.5 502.9,218.5 503.3,218.5 503.7,218.5 504.0,218.5 504.4,218.4 504.8,218.1 505.2,218.3 505.6,218.4 506.0,218.3 506.4,218.3 506.8,218.5 507.2,218.6 507.6,218.6 508.0,218.5 508.4,218.3 508.8,218.4 509.2,218.5 509.6,218.6 510.0,218.6 510.4,218.5 510.8,218.4 511.1,218.4 511.5,218.3 511.9,218.4 512.3,218.4 512.7,218.3 513.1,218.2 513.5,218.0 513.9,218.1 514.3,218.0 514.7,218.0 515.1,217.9 515.5,217.8 515.9,217.4 516.3,217.1 516.7,216.8 517.1,216.8 517.5,216.8 517.9,216.4 518.2,216.2 518.6,215.6 519.0,214.9 519.4,213.5 519.8,212.8 520.2,213.9 520.6,215.4 521.0,216.3 521.4,216.9 521.8,217.2 522.2,217.6 522.6,217.8 523.0,217.9 523.4,217.9 523.8,218.1 524.2,218.2 524.6,218.2 524.9,218.1 525.3,218.1 525.7,218.3 526.1,218.5 526.5,218.5 526.9,218.5 527.3,218.5 527.7,218.5 528.1,218.6 528.5,218.5 528.9,218.4 529.3,218.1 529.7,218.1 530.1,217.8 530.5,218.1 530.9,218.4 531.3,218.6 531.7,218.6 532.0,218.6 532.4,218.6 532.8,218.6 533.2,218.6 533.6,218.6 534.0,218.6 534.4,218.5 534.8,218.2 535.2,218.3 535.6,218.4 536.0,218.3 536.4,218.4 536.8,218.2 537.2,218.3 537.6,218.3 538.0,218.5 538.4,218.5 538.8,218.4 539.1,218.4 539.5,218.4 539.9,218.5 540.3,218.4 540.7,218.4 541.1,218.4 541.5,218.3 541.9,218.1 542.3,217.9 542.7,217.5 543.1,216.5 543.5,214.6 543.9,216.7 544.3,217.7 544.7,218.0 545.1,218.2 545.5,218.3 545.9,218.4 546.2,218.3 546.6,218.2 547.0,218.1 547.4,218.2 547.8,218.4 548.2,218.5 548.6,218.4 549.0,218.4 549.4,218.5 549.8,218.4 550.2,218.4 550.6,218.4 551.0,218.4 551.4,218.4 551.8,218.5 552.2,218.6 552.6,218.6 553.0,218.6 553.3,218.6 553.7,218.7 554.1,218.6 554.5,218.6 554.9,218.5 555.3,218.5 555.7,218.4 556.1,218.6 556.5,218.6 556.9,218.6 557.3,218.7 557.7,218.7 558.1,218.7 558.5,218.6 558.9,218.6 559.3,218.6 559.7,218.6 560.1,218.6 560.4,218.5 560.8,218.2 561.2,218.5 561.6,218.5 562.0,218.5 562.4,218.4 562.8,218.4 563.2,218.4 563.6,218.4 564.0,218.5 564.4,218.5 564.8,218.3 565.2,218.1 565.6,218.0 566.0,218.0 566.4,217.8 566.8,217.1 567.2,216.1 567.5,217.0 567.9,217.7 568.3,218.0 568.7,218.2 569.1,218.3 569.5,218.2 569.9,218.2 570.3,218.3 570.7,218.4 571.1,218.4 571.5,218.5 571.9,218.6 572.3,218.6 572.7,218.6 573.1,218.6 573.5,218.6 573.9,218.7 574.3,218.7 574.6,218.6 575.0,218.6 575.4,218.6 575.8,218.6 576.2,218.5 576.6,218.4 577.0,218.3 577.4,218.4 577.8,218.5 578.2,218.6 578.6,218.7 579.0,218.7 579.4,218.7 579.8,218.6 580.2,218.6 580.6,218.7 581.0,218.7 581.3,218.6 581.7,218.5 582.1,218.5 582.5,218.6 582.9,218.6 583.3,218.6 583.7,218.6 584.1,218.6 584.5,218.5 584.9,218.5 585.3,218.6 585.7,218.7 586.1,218.7 586.5,218.7 586.9,218.7 587.3,218.6 587.7,218.5 588.1,218.4 588.4,218.4 588.8,218.4 589.2,218.3 589.6,218.2 590.0,218.1 590.4,217.7 590.8,217.3 591.2,217.7 591.6,218.0 592.0,218.2 592.4,218.2 592.8,218.2 593.2,218.3 593.6,218.5 594.0,218.6 594.4,218.5 594.8,218.4 595.2,218.5 595.5,218.5 595.9,218.6 596.3,218.6 596.7,218.6 597.1,218.5 597.5,218.5 597.9,218.4 598.3,218.2 598.7,218.2 599.1,218.1 599.5,218.1 599.9,218.1 600.3,218.3 600.7,218.3 601.1,218.5 601.5,218.4 601.9,218.5 602.3,218.1 602.6,218.2 603.0,218.5 603.4,218.7 603.8,218.6 604.2,218.6 604.6,218.6 605.0,218.7 605.4,218.6 605.8,218.5 606.2,218.5 606.6,218.5 607.0,218.5 607.4,218.5 607.8,218.6 608.2,218.5 608.6,218.5 609.0,218.3 609.4,218.5 609.7,218.6 610.1,218.6 610.5,218.6 610.9,218.6 611.3,218.5 611.7,218.4 612.1,218.2 612.5,218.2 612.9,218.2 613.3,218.2 613.7,218.1 614.1,217.9 614.5,217.6 614.9,217.9 615.3,217.8 615.7,217.9 616.1,218.2 616.5,218.4 616.8,218.5 617.2,218.6 617.6,218.6 618.0,218.5 618.4,218.5 618.8,218.4 619.2,218.3 619.6,218.4 620.0,218.5 620.4,218.6 620.8,218.6 621.2,218.6 621.6,218.6 622.0,218.5 622.4,218.4 622.8,218.3 623.2,218.5 623.6,218.6 623.9,218.7 624.3,218.7 624.7,218.7 625.1,218.7 625.5,218.6 625.9,218.5 626.3,218.4 626.7,218.5 627.1,218.4 627.5,218.6 627.9,218.7 628.3,218.7 628.7,218.6 629.1,218.5 629.5,218.5 629.9,218.5 630.3,218.5 630.7,218.4 631.0,218.5 631.4,218.6 631.8,218.7 632.2,218.7 632.6,218.7 633.0,218.6 633.4,218.6 633.8,218.5 634.2,218.5 634.6,218.5 635.0,218.4 635.4,218.4 635.8,218.5 636.2,218.4 636.6,218.4 637.0,218.3 637.4,218.1 637.8,217.6 638.1,217.1 638.5,217.5 638.9,217.9 639.3,218.2 639.7,218.3 640.1,218.3 640.5,218.2 640.9,218.4 641.3,218.4 641.7,218.4 642.1,218.5 642.5,218.6 642.9,218.7 643.3,218.7 643.7,218.6 644.1,218.6 644.5,218.6 644.8,218.5 645.2,218.3 645.6,218.1 646.0,218.2 646.4,218.5 646.8,218.6 647.2,218.5 647.6,218.5 648.0,218.4 648.4,218.5 648.8,218.5 649.2,218.5 649.6,218.4 650.0,218.5 650.4,218.5 650.8,218.5 651.2,218.6 651.6,218.6 651.9,218.6 652.3,218.6 652.7,218.7 653.1,218.6 653.5,218.6 653.9,218.6 654.3,218.5 654.7,218.6 655.1,218.4 655.5,218.6 655.9,218.6 656.3,218.7 656.7,218.6 657.1,218.5 657.5,218.6 657.9,218.6 658.3,218.6 658.7,218.5 659.0,218.6 659.4,218.6 659.8,218.5 660.2,218.6 660.6,218.6 661.0,218.5 661.4,218.5 661.8,218.5 662.2,218.6 662.6,218.7 663.0,218.7 663.4,218.7 663.8,218.7 664.2,218.6 664.6,218.6 665.0,218.4 665.4,218.2 665.8,218.3 666.1,218.3 666.5,218.6 666.9,218.7 667.3,218.7 667.7,218.7 668.1,218.7 668.5,218.6 668.9,218.5 669.3,218.4 669.7,218.5 670.1,218.6 670.5,218.6 670.9,218.7 671.3,218.5 671.7,218.6 672.1,218.7 672.5,218.6 672.9,218.7 673.2,218.7 673.6,218.7 674.0,218.7 674.4,218.6 674.8,218.6 675.2,218.6 675.6,218.6 676.0,218.6 676.4,218.7 676.8,218.7 677.2,218.6 677.6,218.6 678.0,218.5 678.4,218.6 678.8,218.6 679.2,218.6 679.6,218.7 680.0,218.7 680.3,218.7 680.7,218.7 681.1,218.7 681.5,218.7 681.9,218.6 682.3,218.5 682.7,218.6 683.1,218.6 683.5,218.5 683.9,218.2" fill="none" stroke="#000" stroke-width="1.15" stroke-linejoin="round"/>
<rect x="401.5" y="167.3" width="282.4" height="52.0" fill="none" stroke="#000" stroke-width="1.0"/>
<path d="M479.9 219.3v-3.3M479.9 167.3v3.3" stroke="#111" stroke-width="1.1"/>
<path d="M558.4 219.3v-3.3M558.4 167.3v3.3" stroke="#111" stroke-width="1.1"/>
<path d="M636.9 219.3v-3.3M636.9 167.3v3.3" stroke="#111" stroke-width="1.1"/>
<text x="401.0" y="237.6" font-size="13.8" text-anchor="middle" fill="#111">0</text>
<text x="479.4" y="237.6" font-size="13.8" text-anchor="middle" fill="#111">5</text>
<text x="557.9" y="237.6" font-size="13.8" text-anchor="middle" fill="#111">10</text>
<text x="636.4" y="237.6" font-size="13.8" text-anchor="middle" fill="#111">15</text>
<text x="396.3" y="173.3" font-size="13.8" text-anchor="end" fill="#111">5</text>
<text x="396.9" y="225.2" font-size="13.8" text-anchor="end" fill="#111">0</text>
<rect x="486.5" y="171.8" width="190.6" height="17.3" fill="#fff" stroke="#111" stroke-width="1.0"/>
<path d="M489.5 180.1H515.5" stroke="#000" stroke-width="0.9"/>
<text x="517.5" y="185.2" font-size="12.75" fill="#000">x=1.80 m from the disturbance</text>
</g>
<g>
<polyline points="30.1,277.0 30.5,298.8 30.9,299.1 31.3,299.3 31.7,299.5 32.1,299.5 32.5,299.5 32.9,299.4 33.3,299.0 33.6,298.8 34.0,298.9 34.4,299.1 34.8,299.3 35.2,299.1 35.6,298.4 36.0,298.1 36.4,298.8 36.8,299.1 37.2,299.1 37.6,298.7 38.0,298.0 38.4,297.7 38.8,298.1 39.2,298.1 39.6,299.1 40.0,299.3 40.4,299.2 40.7,298.6 41.1,298.5 41.5,298.9 41.9,298.6 42.3,298.5 42.7,298.4 43.1,299.0 43.5,299.2 43.9,299.3 44.3,299.2 44.7,299.0 45.1,298.6 45.5,298.8 45.9,298.9 46.3,298.8 46.7,298.5 47.1,298.6 47.5,298.5 47.8,298.4 48.2,298.2 48.6,297.6 49.0,297.4 49.4,297.0 49.8,296.9 50.2,297.0 50.6,297.1 51.0,296.8 51.4,296.3 51.8,295.3 52.2,293.8 52.6,291.0 53.0,285.9 53.4,273.7 53.8,260.8 54.2,273.7 54.6,285.8 54.9,290.9 55.3,293.5 55.7,295.4 56.1,296.4 56.5,297.0 56.9,297.0 57.3,297.6 57.7,297.7 58.1,298.3 58.5,298.2 58.9,298.2 59.3,297.5 59.7,298.1 60.1,297.8 60.5,298.5 60.9,298.5 61.3,298.5 61.7,298.4 62.0,298.3 62.4,298.6 62.8,298.7 63.2,298.6 63.6,299.1 64.0,299.2 64.4,299.3 64.8,299.1 65.2,299.0 65.6,299.2 66.0,299.3 66.4,299.2 66.8,299.0 67.2,299.1 67.6,299.0 68.0,298.8 68.4,298.5 68.8,298.2 69.1,298.0 69.5,298.4 69.9,298.8 70.3,298.8 70.7,298.4 71.1,298.4 71.5,298.0 71.9,297.0 72.3,297.1 72.7,297.6 73.1,297.8 73.5,297.9 73.9,297.4 74.3,297.1 74.7,296.0 75.1,295.2 75.5,295.3 75.9,295.5 76.2,294.6 76.6,292.3 77.0,286.5 77.4,280.3 77.8,286.1 78.2,292.0 78.6,294.8 79.0,296.4 79.4,297.5 79.8,298.1 80.2,298.4 80.6,298.3 81.0,297.5 81.4,298.4 81.8,298.9 82.2,299.0 82.6,298.9 83.0,298.7 83.3,298.9 83.7,299.0 84.1,299.0 84.5,298.8 84.9,298.3 85.3,298.9 85.7,299.0 86.1,298.8 86.5,298.1 86.9,298.4 87.3,298.2 87.7,298.6 88.1,298.3 88.5,298.9 88.9,298.9 89.3,299.2 89.7,299.1 90.0,299.3 90.4,299.4 90.8,299.3 91.2,299.1 91.6,299.1 92.0,298.7 92.4,298.4 92.8,298.1 93.2,298.1 93.6,297.7 94.0,298.1 94.4,298.7 94.8,298.9 95.2,299.1 95.6,299.3 96.0,299.5 96.4,299.5 96.8,299.5 97.1,299.3 97.5,299.2 97.9,298.8 98.3,298.3 98.7,297.0 99.1,296.6 99.5,296.4 99.9,297.5 100.3,297.6 100.7,296.5 101.1,282.5 101.5,296.8 101.9,298.2 102.3,298.2 102.7,298.2 103.1,298.6 103.5,299.1 103.9,299.2 104.2,299.3 104.6,299.2 105.0,299.2 105.4,298.8 105.8,298.2 106.2,298.5 106.6,298.8 107.0,298.9 107.4,299.1 107.8,299.2 108.2,299.3 108.6,299.1 109.0,299.3 109.4,299.2 109.8,299.3 110.2,299.5 110.6,299.5 111.0,299.4 111.3,299.2 111.7,299.2 112.1,299.2 112.5,299.2 112.9,299.5 113.3,299.6 113.7,299.6 114.1,299.5 114.5,299.5 114.9,299.4 115.3,299.3 115.7,299.2 116.1,299.4 116.5,299.6 116.9,299.7 117.3,299.7 117.7,299.6 118.1,299.5 118.4,299.2 118.8,299.2 119.2,299.1 119.6,299.3 120.0,299.3 120.4,299.1 120.8,298.6 121.2,297.8 121.6,297.3 122.0,297.4 122.4,297.4 122.8,297.7 123.2,297.6 123.6,296.9 124.0,295.0 124.4,290.6 124.8,287.0 125.2,291.5 125.5,295.2 125.9,297.0 126.3,297.8 126.7,298.1 127.1,298.5 127.5,298.7 127.9,298.6 128.3,298.3 128.7,298.8 129.1,299.3 129.5,299.2 129.9,299.2 130.3,299.2 130.7,299.4 131.1,299.5 131.5,299.5 131.9,299.3 132.3,299.0 132.6,299.1 133.0,299.2 133.4,299.2 133.8,299.0 134.2,299.0 134.6,298.9 135.0,298.9 135.4,298.9 135.8,298.9 136.2,299.0 136.6,298.8 137.0,298.9 137.4,299.0 137.8,299.0 138.2,298.2 138.6,299.0 139.0,299.4 139.4,299.3 139.7,299.2 140.1,299.0 140.5,298.4 140.9,299.0 141.3,299.1 141.7,299.3 142.1,299.0 142.5,299.0 142.9,299.1 143.3,299.0 143.7,298.8 144.1,298.9 144.5,298.7 144.9,298.5 145.3,298.2 145.7,298.1 146.1,297.8 146.5,297.8 146.8,298.0 147.2,297.7 147.6,297.0 148.0,295.2 148.4,293.2 148.8,295.4 149.2,297.2 149.6,297.7 150.0,297.7 150.4,297.2 150.8,297.2 151.2,298.0 151.6,298.6 152.0,299.0 152.4,299.2 152.8,299.3 153.2,298.8 153.5,299.2 153.9,299.4 154.3,299.2 154.7,298.8 155.1,298.3 155.5,298.0 155.9,298.4 156.3,298.9 156.7,298.9 157.1,298.9 157.5,298.4 157.9,298.6 158.3,298.5 158.7,297.9 159.1,298.0 159.5,298.4 159.9,298.6 160.3,299.0 160.6,299.4 161.0,299.5 161.4,299.6 161.8,299.6 162.2,299.3 162.6,299.5 163.0,299.4 163.4,299.1 163.8,299.3 164.2,299.3 164.6,299.4 165.0,299.3 165.4,299.2 165.8,298.9 166.2,299.4 166.6,299.6 167.0,299.5 167.4,299.4 167.7,299.4 168.1,299.3 168.5,299.3 168.9,299.5 169.3,299.5 169.7,299.5 170.1,299.3 170.5,299.2 170.9,299.0 171.3,298.6 171.7,297.4 172.1,294.6 172.5,297.5 172.9,298.4 173.3,298.9 173.7,298.9 174.1,299.1 174.5,299.2 174.8,299.3 175.2,299.2 175.6,299.0 176.0,299.4 176.4,299.3 176.8,299.4 177.2,299.3 177.6,299.5 178.0,299.4 178.4,299.5 178.8,299.4 179.2,299.6 179.6,299.4 180.0,299.5 180.4,299.6 180.8,299.7 181.2,299.8 181.6,299.7 181.9,299.4 182.3,299.1 182.7,299.1 183.1,299.4 183.5,299.5 183.9,299.5 184.3,298.9 184.7,299.1 185.1,298.8 185.5,299.2 185.9,299.3 186.3,299.6 186.7,299.6 187.1,299.6 187.5,299.3 187.9,298.7 188.3,299.0 188.7,299.4 189.0,299.7 189.4,299.8 189.8,299.7 190.2,299.4 190.6,299.1 191.0,299.1 191.4,299.3 191.8,299.2 192.2,299.4 192.6,299.0 193.0,299.0 193.4,298.6 193.8,298.8 194.2,298.6 194.6,298.9 195.0,298.6 195.4,297.9 195.8,296.9 196.1,297.6 196.5,298.3 196.9,299.0 197.3,299.2 197.7,299.4 198.1,299.5 198.5,299.4 198.9,299.3 199.3,299.4 199.7,299.2 200.1,298.8 200.5,299.2 200.9,299.5 201.3,299.6 201.7,299.5 202.1,299.3 202.5,298.6 202.9,298.7 203.2,298.5 203.6,298.8 204.0,299.3 204.4,299.5 204.8,299.6 205.2,299.5 205.6,299.4 206.0,299.2 206.4,299.2 206.8,299.4 207.2,299.1 207.6,299.4 208.0,299.4 208.4,299.6 208.8,299.4 209.2,299.3 209.6,299.5 209.9,299.5 210.3,299.3 210.7,299.3 211.1,299.2 211.5,299.5 211.9,299.4 212.3,299.5 212.7,299.3 213.1,299.1 213.5,299.2 213.9,298.9 214.3,299.0 214.7,298.7 215.1,299.0 215.5,299.0 215.9,299.4 216.3,299.5 216.7,299.4 217.0,299.2 217.4,299.3 217.8,299.2 218.2,299.0 218.6,298.5 219.0,298.7 219.4,298.6 219.8,299.1 220.2,299.4 220.6,299.5 221.0,299.3 221.4,299.2 221.8,299.2 222.2,299.3 222.6,299.1 223.0,299.1 223.4,298.9 223.8,299.3 224.1,299.4 224.5,299.6 224.9,299.4 225.3,299.3 225.7,299.1 226.1,298.8 226.5,298.6 226.9,299.0 227.3,299.2 227.7,299.3 228.1,299.6 228.5,299.7 228.9,299.8 229.3,299.6 229.7,299.6 230.1,299.6 230.5,299.2 230.9,298.8 231.2,298.7 231.6,299.4 232.0,299.7 232.4,299.9 232.8,299.7 233.2,299.5 233.6,299.2 234.0,299.2 234.4,299.5 234.8,299.8 235.2,299.7 235.6,299.4 236.0,299.0 236.4,299.3 236.8,299.5 237.2,299.7 237.6,299.5 238.0,299.6 238.3,299.5 238.7,299.4 239.1,298.9 239.5,299.5 239.9,299.5 240.3,299.3 240.7,298.8 241.1,298.5 241.5,299.1 241.9,299.4 242.3,299.3 242.7,298.7 243.1,297.9 243.5,298.2 243.9,298.7 244.3,299.2 244.7,299.3 245.1,299.5 245.4,299.4 245.8,299.3 246.2,299.1 246.6,299.2 247.0,299.5 247.4,299.6 247.8,299.5 248.2,299.6 248.6,299.8 249.0,299.7 249.4,299.5 249.8,299.2 250.2,299.2 250.6,299.4 251.0,299.4 251.4,299.4 251.8,299.2 252.2,299.2 252.5,298.9 252.9,298.9 253.3,299.4 253.7,299.6 254.1,299.7 254.5,299.6 254.9,299.6 255.3,299.6 255.7,299.4 256.1,299.3 256.5,299.3 256.9,299.3 257.3,299.6 257.7,299.8 258.1,299.8 258.5,299.8 258.9,299.7 259.3,299.4 259.6,299.5 260.0,299.3 260.4,299.4 260.8,299.3 261.2,299.2 261.6,299.3 262.0,299.3 262.4,299.3 262.8,299.5 263.2,299.5 263.6,299.5 264.0,299.4 264.4,299.2 264.8,299.0 265.2,298.7 265.6,299.0 266.0,298.9 266.4,298.5 266.7,297.9 267.1,298.2 267.5,298.4 267.9,299.0 268.3,299.3 268.7,299.6 269.1,299.5 269.5,299.6 269.9,299.6 270.3,299.8 270.7,299.7 271.1,299.7 271.5,299.5 271.9,299.5 272.3,299.7 272.7,299.6 273.1,299.6 273.4,299.5 273.8,299.7 274.2,299.7 274.6,299.7 275.0,299.6 275.4,299.7 275.8,299.6 276.2,299.6 276.6,299.4 277.0,299.4 277.4,299.4 277.8,299.5 278.2,299.2 278.6,299.4 279.0,299.4 279.4,299.4 279.8,299.2 280.2,298.7 280.5,299.3 280.9,299.4 281.3,299.6 281.7,299.6 282.1,299.4 282.5,299.5 282.9,299.5 283.3,299.5 283.7,299.5 284.1,299.4 284.5,299.2 284.9,299.3 285.3,299.3 285.7,299.2 286.1,299.5 286.5,299.6 286.9,299.8 287.3,299.7 287.6,299.7 288.0,299.8 288.4,299.7 288.8,299.9 289.2,299.8 289.6,299.7 290.0,299.3 290.4,299.5 290.8,299.6 291.2,299.7 291.6,299.8 292.0,299.8 292.4,299.7 292.8,299.7 293.2,299.7 293.6,299.8 294.0,299.8 294.4,299.8 294.7,299.8 295.1,299.6 295.5,298.9 295.9,299.5 296.3,299.8 296.7,299.9 297.1,299.9 297.5,299.6 297.9,299.2 298.3,299.1 298.7,299.4 299.1,299.6 299.5,299.7 299.9,299.6 300.3,299.4 300.7,299.4 301.1,299.5 301.5,299.7 301.8,299.7 302.2,299.5 302.6,299.4 303.0,299.3 303.4,299.4 303.8,299.5 304.2,299.3 304.6,299.5 305.0,299.6 305.4,299.6 305.8,299.6 306.2,299.5 306.6,299.3 307.0,299.3 307.4,299.3 307.8,299.5 308.2,299.2 308.6,299.2 308.9,298.8 309.3,298.9 309.7,299.0 310.1,299.4 310.5,299.4 310.9,299.2 311.3,299.2 311.7,299.4 312.1,299.4 312.5,299.6" fill="none" stroke="#000" stroke-width="1.15" stroke-linejoin="round"/>
<rect x="30.1" y="248.3" width="282.4" height="52.2" fill="none" stroke="#000" stroke-width="1.0"/>
<path d="M108.6 300.5v-3.3M108.6 248.3v3.3" stroke="#111" stroke-width="1.1"/>
<path d="M187.0 300.5v-3.3M187.0 248.3v3.3" stroke="#111" stroke-width="1.1"/>
<path d="M265.4 300.5v-3.3M265.4 248.3v3.3" stroke="#111" stroke-width="1.1"/>
<text x="29.6" y="318.8" font-size="13.8" text-anchor="middle" fill="#111">0</text>
<text x="108.1" y="318.8" font-size="13.8" text-anchor="middle" fill="#111">5</text>
<text x="186.5" y="318.8" font-size="13.8" text-anchor="middle" fill="#111">10</text>
<text x="264.9" y="318.8" font-size="13.8" text-anchor="middle" fill="#111">15</text>
<text x="24.9" y="254.3" font-size="13.8" text-anchor="end" fill="#111">5</text>
<text x="25.5" y="306.4" font-size="13.8" text-anchor="end" fill="#111">0</text>
<rect x="115.1" y="252.8" width="190.6" height="17.3" fill="#fff" stroke="#111" stroke-width="1.0"/>
<path d="M118.1 261.1H144.1" stroke="#000" stroke-width="0.9"/>
<text x="146.1" y="266.2" font-size="12.75" fill="#000">x=2.10 m from the disturbance</text>
</g>
<g>
<polyline points="401.5,273.2 401.9,299.3 402.3,299.4 402.7,299.5 403.1,299.4 403.5,299.5 403.9,299.5 404.3,299.6 404.7,299.7 405.0,299.5 405.4,299.2 405.8,299.0 406.2,299.3 406.6,299.5 407.0,299.5 407.4,299.5 407.8,299.6 408.2,299.5 408.6,299.4 409.0,299.2 409.4,299.2 409.8,299.3 410.2,299.2 410.6,298.6 411.0,299.0 411.4,299.3 411.8,299.5 412.1,299.5 412.5,299.5 412.9,299.3 413.3,299.4 413.7,299.4 414.1,299.4 414.5,299.4 414.9,299.4 415.3,299.3 415.7,299.2 416.1,299.2 416.5,299.0 416.9,298.8 417.3,298.7 417.7,298.4 418.1,298.2 418.5,298.4 418.9,298.1 419.2,298.3 419.6,297.9 420.0,298.3 420.4,298.3 420.8,298.3 421.2,298.0 421.6,297.7 422.0,297.3 422.4,296.5 422.8,296.2 423.2,295.6 423.6,294.3 424.0,291.9 424.4,287.1 424.8,276.0 425.2,264.7 425.6,276.3 426.0,287.3 426.3,292.2 426.7,294.5 427.1,295.7 427.5,296.5 427.9,297.0 428.3,297.6 428.7,297.9 429.1,298.1 429.5,298.2 429.9,298.1 430.3,298.4 430.7,298.4 431.1,298.5 431.5,298.6 431.9,298.7 432.3,298.9 432.7,299.0 433.1,299.2 433.4,299.1 433.8,299.0 434.2,298.6 434.6,298.4 435.0,298.5 435.4,298.5 435.8,298.7 436.2,299.0 436.6,298.9 437.0,299.1 437.4,299.1 437.8,299.0 438.2,299.1 438.6,299.2 439.0,299.2 439.4,299.3 439.8,299.3 440.2,299.2 440.5,298.9 440.9,298.9 441.3,299.0 441.7,298.9 442.1,298.5 442.5,298.6 442.9,298.4 443.3,298.2 443.7,298.2 444.1,298.4 444.5,298.3 444.9,298.1 445.3,297.8 445.7,297.5 446.1,297.4 446.5,297.2 446.9,296.7 447.3,295.8 447.6,294.3 448.0,291.8 448.4,286.7 448.8,282.2 449.2,286.7 449.6,291.8 450.0,294.6 450.4,296.0 450.8,297.0 451.2,297.3 451.6,297.8 452.0,298.0 452.4,298.3 452.8,298.3 453.2,298.4 453.6,298.4 454.0,298.8 454.4,299.1 454.7,299.2 455.1,299.2 455.5,299.1 455.9,299.2 456.3,299.1 456.7,299.1 457.1,298.8 457.5,299.2 457.9,299.3 458.3,299.3 458.7,299.4 459.1,299.5 459.5,299.5 459.9,299.4 460.3,299.3 460.7,299.1 461.1,299.4 461.4,299.6 461.8,299.6 462.2,299.6 462.6,299.7 463.0,299.7 463.4,299.7 463.8,299.7 464.2,299.7 464.6,299.6 465.0,299.4 465.4,299.3 465.8,299.2 466.2,299.0 466.6,298.9 467.0,299.3 467.4,299.3 467.8,299.3 468.2,299.2 468.5,299.2 468.9,299.1 469.3,299.0 469.7,298.6 470.1,298.3 470.5,298.4 470.9,298.6 471.3,298.6 471.7,297.9 472.1,295.4 472.5,280.9 472.9,295.4 473.3,297.9 473.7,298.5 474.1,298.5 474.5,298.6 474.9,298.8 475.3,298.9 475.6,299.1 476.0,299.2 476.4,299.2 476.8,299.3 477.2,299.5 477.6,299.5 478.0,299.5 478.4,299.4 478.8,299.5 479.2,299.4 479.6,299.3 480.0,299.5 480.4,299.7 480.8,299.8 481.2,299.8 481.6,299.8 482.0,299.7 482.4,299.6 482.7,299.5 483.1,299.5 483.5,299.5 483.9,299.5 484.3,299.5 484.7,299.5 485.1,299.6 485.5,299.6 485.9,299.6 486.3,299.6 486.7,299.5 487.1,299.4 487.5,299.4 487.9,299.5 488.3,299.5 488.7,299.6 489.1,299.6 489.5,299.7 489.8,299.6 490.2,299.6 490.6,299.5 491.0,299.4 491.4,299.4 491.8,299.1 492.2,299.0 492.6,299.1 493.0,298.9 493.4,298.5 493.8,298.2 494.2,298.3 494.6,298.1 495.0,297.6 495.4,296.2 495.8,292.3 496.2,285.7 496.6,292.1 496.9,296.0 497.3,297.4 497.7,297.9 498.1,298.4 498.5,298.6 498.9,298.8 499.3,299.0 499.7,298.9 500.1,299.2 500.5,299.3 500.9,299.4 501.3,299.5 501.7,299.5 502.1,299.6 502.5,299.6 502.9,299.6 503.3,299.6 503.7,299.7 504.0,299.7 504.4,299.7 504.8,299.8 505.2,299.8 505.6,299.8 506.0,299.7 506.4,299.7 506.8,299.6 507.2,299.6 507.6,299.5 508.0,299.3 508.4,299.2 508.8,299.5 509.2,299.7 509.6,299.6 510.0,299.5 510.4,299.5 510.8,299.5 511.1,299.5 511.5,299.4 511.9,299.4 512.3,299.1 512.7,299.0 513.1,299.3 513.5,299.4 513.9,299.3 514.3,299.1 514.7,299.2 515.1,299.2 515.5,299.1 515.9,299.1 516.3,299.0 516.7,298.8 517.1,298.8 517.5,298.6 517.9,298.3 518.2,297.9 518.6,297.2 519.0,295.9 519.4,294.0 519.8,292.6 520.2,293.9 520.6,295.5 521.0,296.2 521.4,296.4 521.8,296.2 522.2,296.3 522.6,297.1 523.0,297.7 523.4,298.1 523.8,298.2 524.2,298.7 524.6,298.8 524.9,299.0 525.3,299.2 525.7,299.3 526.1,299.3 526.5,299.5 526.9,299.5 527.3,299.5 527.7,299.6 528.1,299.6 528.5,299.7 528.9,299.7 529.3,299.6 529.7,299.6 530.1,299.7 530.5,299.7 530.9,299.7 531.3,299.7 531.7,299.7 532.0,299.7 532.4,299.6 532.8,299.6 533.2,299.7 533.6,299.6 534.0,299.5 534.4,299.4 534.8,299.4 535.2,299.6 535.6,299.6 536.0,299.4 536.4,299.4 536.8,299.6 537.2,299.6 537.6,299.5 538.0,299.2 538.4,299.3 538.8,299.5 539.1,299.6 539.5,299.6 539.9,299.6 540.3,299.4 540.7,299.3 541.1,299.2 541.5,299.1 541.9,298.9 542.3,298.7 542.7,298.2 543.1,296.9 543.5,293.3 543.9,296.8 544.3,298.2 544.7,298.3 545.1,298.7 545.5,299.0 545.9,299.2 546.2,299.4 546.6,299.5 547.0,299.6 547.4,299.5 547.8,299.5 548.2,299.6 548.6,299.7 549.0,299.7 549.4,299.6 549.8,299.6 550.2,299.6 550.6,299.5 551.0,299.6 551.4,299.7 551.8,299.6 552.2,299.5 552.6,299.3 553.0,299.5 553.3,299.7 553.7,299.8 554.1,299.8 554.5,299.7 554.9,299.5 555.3,299.5 555.7,299.6 556.1,299.5 556.5,299.5 556.9,299.2 557.3,299.2 557.7,299.2 558.1,299.3 558.5,299.2 558.9,299.3 559.3,299.1 559.7,299.4 560.1,299.6 560.4,299.8 560.8,299.8 561.2,299.8 561.6,299.8 562.0,299.8 562.4,299.5 562.8,299.2 563.2,298.7 563.6,299.2 564.0,299.4 564.4,299.6 564.8,299.5 565.2,299.5 565.6,299.4 566.0,299.2 566.4,298.8 566.8,297.6 567.2,296.3 567.5,297.7 567.9,298.8 568.3,299.2 568.7,299.3 569.1,299.5 569.5,299.5 569.9,299.5 570.3,299.6 570.7,299.5 571.1,299.6 571.5,299.7 571.9,299.7 572.3,299.6 572.7,299.7 573.1,299.8 573.5,299.8 573.9,299.7 574.3,299.7 574.6,299.6 575.0,299.7 575.4,299.7 575.8,299.6 576.2,299.6 576.6,299.6 577.0,299.7 577.4,299.7 577.8,299.7 578.2,299.7 578.6,299.8 579.0,299.7 579.4,299.7 579.8,299.6 580.2,299.6 580.6,299.6 581.0,299.6 581.3,299.8 581.7,299.9 582.1,299.9 582.5,299.9 582.9,299.8 583.3,299.7 583.7,299.7 584.1,299.7 584.5,299.7 584.9,299.8 585.3,299.8 585.7,299.7 586.1,299.5 586.5,299.4 586.9,299.4 587.3,299.5 587.7,299.6 588.1,299.5 588.4,299.6 588.8,299.6 589.2,299.6 589.6,299.4 590.0,299.2 590.4,298.6 590.8,298.3 591.2,298.7 591.6,299.2 592.0,299.4 592.4,299.6 592.8,299.6 593.2,299.7 593.6,299.6 594.0,299.6 594.4,299.6 594.8,299.6 595.2,299.5 595.5,299.6 595.9,299.6 596.3,299.5 596.7,299.5 597.1,299.7 597.5,299.7 597.9,299.7 598.3,299.8 598.7,299.8 599.1,299.9 599.5,299.8 599.9,299.8 600.3,299.8 600.7,299.8 601.1,299.7 601.5,299.6 601.9,299.5 602.3,299.5 602.6,299.7 603.0,299.7 603.4,299.8 603.8,299.7 604.2,299.7 604.6,299.5 605.0,299.6 605.4,299.5 605.8,299.7 606.2,299.7 606.6,299.6 607.0,299.7 607.4,299.7 607.8,299.8 608.2,299.7 608.6,299.8 609.0,299.8 609.4,299.7 609.7,299.7 610.1,299.7 610.5,299.7 610.9,299.8 611.3,299.7 611.7,299.7 612.1,299.6 612.5,299.5 612.9,299.4 613.3,299.3 613.7,299.0 614.1,298.9 614.5,298.7 614.9,299.1 615.3,299.4 615.7,299.6 616.1,299.6 616.5,299.5 616.8,299.6 617.2,299.7 617.6,299.8 618.0,299.8 618.4,299.7 618.8,299.5 619.2,299.5 619.6,299.7 620.0,299.7 620.4,299.8 620.8,299.7 621.2,299.7 621.6,299.7 622.0,299.8 622.4,299.9 622.8,299.9 623.2,299.9 623.6,299.9 623.9,299.9 624.3,299.7 624.7,299.6 625.1,299.5 625.5,299.7 625.9,299.7 626.3,299.7 626.7,299.5 627.1,299.6 627.5,299.5 627.9,299.4 628.3,299.6 628.7,299.6 629.1,299.8 629.5,299.8 629.9,299.9 630.3,299.9 630.7,299.8 631.0,299.8 631.4,299.8 631.8,299.8 632.2,299.8 632.6,299.6 633.0,299.6 633.4,299.7 633.8,299.7 634.2,299.7 634.6,299.6 635.0,299.5 635.4,299.5 635.8,299.6 636.2,299.5 636.6,299.4 637.0,299.4 637.4,299.3 637.8,298.9 638.1,298.5 638.5,298.8 638.9,299.2 639.3,299.4 639.7,299.6 640.1,299.7 640.5,299.8 640.9,299.7 641.3,299.6 641.7,299.6 642.1,299.8 642.5,299.9 642.9,299.8 643.3,299.7 643.7,299.7 644.1,299.6 644.5,299.8 644.8,299.8 645.2,299.7 645.6,299.5 646.0,299.3 646.4,299.6 646.8,299.8 647.2,299.9 647.6,299.9 648.0,299.9 648.4,299.7 648.8,299.6 649.2,299.7 649.6,299.7 650.0,299.6 650.4,299.6 650.8,299.6 651.2,299.7 651.6,299.7 651.9,299.6 652.3,299.4 652.7,299.5 653.1,299.5 653.5,299.3 653.9,299.6 654.3,299.7 654.7,299.8 655.1,299.8 655.5,299.8 655.9,299.8 656.3,299.7 656.7,299.8 657.1,299.8 657.5,299.8 657.9,299.6 658.3,299.6 658.7,299.6 659.0,299.8 659.4,299.8 659.8,299.9 660.2,299.9 660.6,299.9 661.0,299.9 661.4,299.9 661.8,299.8 662.2,299.7 662.6,299.7 663.0,299.8 663.4,299.7 663.8,299.7 664.2,299.5 664.6,299.6 665.0,299.7 665.4,299.8 665.8,299.8 666.1,299.7 666.5,299.7 666.9,299.8 667.3,299.9 667.7,299.9 668.1,299.8 668.5,299.7 668.9,299.5 669.3,299.6 669.7,299.7 670.1,299.8 670.5,299.7 670.9,299.7 671.3,299.8 671.7,299.9 672.1,299.8 672.5,299.8 672.9,299.6 673.2,299.7 673.6,299.7 674.0,299.6 674.4,299.6 674.8,299.7 675.2,299.8 675.6,299.9 676.0,299.9 676.4,299.9 676.8,299.9 677.2,299.8 677.6,299.7 678.0,299.7 678.4,299.8 678.8,299.8 679.2,299.9 679.6,299.9 680.0,299.9 680.3,299.8 680.7,299.7 681.1,299.7 681.5,299.6 681.9,299.6 682.3,299.7 682.7,299.8 683.1,299.7 683.5,299.5 683.9,299.7" fill="none" stroke="#000" stroke-width="1.15" stroke-linejoin="round"/>
<rect x="401.5" y="248.3" width="282.4" height="52.2" fill="none" stroke="#000" stroke-width="1.0"/>
<path d="M479.9 300.5v-3.3M479.9 248.3v3.3" stroke="#111" stroke-width="1.1"/>
<path d="M558.4 300.5v-3.3M558.4 248.3v3.3" stroke="#111" stroke-width="1.1"/>
<path d="M636.9 300.5v-3.3M636.9 248.3v3.3" stroke="#111" stroke-width="1.1"/>
<text x="401.0" y="318.8" font-size="13.8" text-anchor="middle" fill="#111">0</text>
<text x="479.4" y="318.8" font-size="13.8" text-anchor="middle" fill="#111">5</text>
<text x="557.9" y="318.8" font-size="13.8" text-anchor="middle" fill="#111">10</text>
<text x="636.4" y="318.8" font-size="13.8" text-anchor="middle" fill="#111">15</text>
<text x="396.3" y="254.3" font-size="13.8" text-anchor="end" fill="#111">5</text>
<text x="396.9" y="306.4" font-size="13.8" text-anchor="end" fill="#111">0</text>
<rect x="486.5" y="252.8" width="190.6" height="17.3" fill="#fff" stroke="#111" stroke-width="1.0"/>
<path d="M489.5 261.1H515.5" stroke="#000" stroke-width="0.9"/>
<text x="517.5" y="266.2" font-size="12.75" fill="#000">x=2.40 m from the disturbance</text>
</g>
<text transform="translate(10.2,145.2) rotate(-90)" font-size="15.4" text-anchor="middle" fill="#111">Energy spectral density</text>
<text x="171.3" y="336.8" font-size="15.2" text-anchor="middle" fill="#111">f (Hz)</text>
<text x="542.7" y="336.8" font-size="15.2" text-anchor="middle" fill="#111">f (Hz)</text>
<text transform="translate(326.9,375) scale(1.1,1)" class="cap" font-size="16.5" letter-spacing="1.1" fill="#2a2a2a">(a)</text>
<text transform="translate(306.0,825) scale(1.1,1)" class="cap" font-size="16.5" letter-spacing="1.1" fill="#2a2a2a">(b)</text>
<rect x="110.6" y="406.2" width="444.9" height="336.3" fill="none" stroke="#111" stroke-width="1"/>
<path d="M199.6 742.5v-4.5M199.6 406.2v4.5" stroke="#111" stroke-width="1"/>
<path d="M288.6 742.5v-4.5M288.6 406.2v4.5" stroke="#111" stroke-width="1"/>
<path d="M377.5 742.5v-4.5M377.5 406.2v4.5" stroke="#111" stroke-width="1"/>
<path d="M466.5 742.5v-4.5M466.5 406.2v4.5" stroke="#111" stroke-width="1"/>
<path d="M110.6 675.2h4.5M555.5 675.2h-4.5" stroke="#111" stroke-width="1"/>
<path d="M110.6 608.0h4.5M555.5 608.0h-4.5" stroke="#111" stroke-width="1"/>
<path d="M110.6 540.7h4.5M555.5 540.7h-4.5" stroke="#111" stroke-width="1"/>
<path d="M110.6 473.5h4.5M555.5 473.5h-4.5" stroke="#111" stroke-width="1"/>
<text x="110.6" y="770.0" font-size="22.5" text-anchor="middle" fill="#111">0</text>
<text x="199.6" y="770.0" font-size="22.5" text-anchor="middle" fill="#111">0.5</text>
<text x="288.6" y="770.0" font-size="22.5" text-anchor="middle" fill="#111">1</text>
<text x="377.5" y="770.0" font-size="22.5" text-anchor="middle" fill="#111">1.5</text>
<text x="466.5" y="770.0" font-size="22.5" text-anchor="middle" fill="#111">2</text>
<text x="555.5" y="770.0" font-size="22.5" text-anchor="middle" fill="#111">2.5</text>
<text x="103.2" y="750.1" font-size="22.5" text-anchor="end" fill="#111">0</text>
<text x="103.2" y="682.8" font-size="22.5" text-anchor="end" fill="#111">1</text>
<text x="103.2" y="615.6" font-size="22.5" text-anchor="end" fill="#111">2</text>
<text x="103.2" y="548.3" font-size="22.5" text-anchor="end" fill="#111">3</text>
<text x="103.2" y="481.1" font-size="22.5" text-anchor="end" fill="#111">4</text>
<text x="103.2" y="413.8" font-size="22.5" text-anchor="end" fill="#111">5</text>
<text x="333.1" y="799.3" font-size="24" text-anchor="middle" fill="#111">x(m)</text>
<text transform="translate(85.2,574.6) rotate(-90)" font-size="24.1" text-anchor="middle" fill="#111">Maximum of the energy spectral density</text>
<circle cx="164.2" cy="607.6" r="4.1" fill="none" stroke="#000" stroke-width="1.5"/>
<circle cx="217.6" cy="624.4" r="4.1" fill="none" stroke="#000" stroke-width="1.5"/>
<circle cx="270.9" cy="605.6" r="4.1" fill="none" stroke="#000" stroke-width="1.5"/>
<circle cx="324.3" cy="554.5" r="4.1" fill="none" stroke="#000" stroke-width="1.5"/>
<circle cx="377.7" cy="576.7" r="4.1" fill="none" stroke="#000" stroke-width="1.5"/>
<circle cx="431.1" cy="493.6" r="4.1" fill="none" stroke="#000" stroke-width="1.5"/>
<circle cx="484.4" cy="476.8" r="4.1" fill="none" stroke="#000" stroke-width="1.5"/>
<circle cx="537.8" cy="479.6" r="4.1" fill="none" stroke="#000" stroke-width="1.5"/>
<rect x="160.83" y="673.95" width="6.7" height="6.7" fill="none" stroke="#000" stroke-width="1.5"/>
<rect x="214.20" y="673.08" width="6.7" height="6.7" fill="none" stroke="#000" stroke-width="1.5"/>
<rect x="267.58" y="639.82" width="6.7" height="6.7" fill="none" stroke="#000" stroke-width="1.5"/>
<rect x="320.95" y="619.67" width="6.7" height="6.7" fill="none" stroke="#000" stroke-width="1.5"/>
<rect x="374.33" y="586.75" width="6.7" height="6.7" fill="none" stroke="#000" stroke-width="1.5"/>
<rect x="427.71" y="515.81" width="6.7" height="6.7" fill="none" stroke="#000" stroke-width="1.5"/>
<rect x="481.08" y="496.06" width="6.7" height="6.7" fill="none" stroke="#000" stroke-width="1.5"/>
<rect x="534.46" y="499.42" width="6.7" height="6.7" fill="none" stroke="#000" stroke-width="1.5"/>
<path d="M160.2 715.0h8.0M164.2 711.0v8.0M161.35 712.16l5.66 5.66M161.35 717.82l5.66 -5.66" stroke="#000" stroke-width="1.3" fill="none"/>
<path d="M213.6 698.9h8.0M217.6 694.9v8.0M214.72 696.10l5.66 5.66M214.72 701.76l5.66 -5.66" stroke="#000" stroke-width="1.3" fill="none"/>
<path d="M266.9 686.2h8.0M270.9 682.2v8.0M268.10 683.34l5.66 5.66M268.10 689.00l5.66 -5.66" stroke="#000" stroke-width="1.3" fill="none"/>
<path d="M320.3 660.6h8.0M324.3 656.6v8.0M321.48 657.81l5.66 5.66M321.48 663.47l5.66 -5.66" stroke="#000" stroke-width="1.3" fill="none"/>
<path d="M373.7 614.3h8.0M377.7 610.3v8.0M374.85 611.46l5.66 5.66M374.85 617.11l5.66 -5.66" stroke="#000" stroke-width="1.3" fill="none"/>
<path d="M427.1 531.9h8.0M431.1 527.9v8.0M428.23 529.10l5.66 5.66M428.23 534.75l5.66 -5.66" stroke="#000" stroke-width="1.3" fill="none"/>
<path d="M480.4 481.9h8.0M484.4 477.9v8.0M481.60 479.11l5.66 5.66M481.60 484.77l5.66 -5.66" stroke="#000" stroke-width="1.3" fill="none"/>
<path d="M533.8 453.3h8.0M537.8 449.3v8.0M534.98 450.49l5.66 5.66M534.98 456.15l5.66 -5.66" stroke="#000" stroke-width="1.3" fill="none"/>
<path d="M161.3 700.4l5.8 5.8M161.3 706.2l5.8 -5.8" stroke="#000" stroke-width="1.5" fill="none"/>
<path d="M214.7 701.1l5.8 5.8M214.7 706.9l5.8 -5.8" stroke="#000" stroke-width="1.5" fill="none"/>
<path d="M268.0 667.8l5.8 5.8M268.0 673.6l5.8 -5.8" stroke="#000" stroke-width="1.5" fill="none"/>
<path d="M321.4 607.4l5.8 5.8M321.4 613.2l5.8 -5.8" stroke="#000" stroke-width="1.5" fill="none"/>
<path d="M374.8 588.5l5.8 5.8M374.8 594.3l5.8 -5.8" stroke="#000" stroke-width="1.5" fill="none"/>
<path d="M428.2 516.7l5.8 5.8M428.2 522.5l5.8 -5.8" stroke="#000" stroke-width="1.5" fill="none"/>
<path d="M481.5 515.3l5.8 5.8M481.5 521.1l5.8 -5.8" stroke="#000" stroke-width="1.5" fill="none"/>
<path d="M534.9 546.2l5.8 5.8M534.9 552.0l5.8 -5.8" stroke="#000" stroke-width="1.5" fill="none"/>
<path d="M164.2 643.47L169.0 651.77H159.4Z" fill="none" stroke="#000" stroke-width="1.5" stroke-linejoin="miter"/>
<path d="M217.6 576.29L222.4 584.59H212.8Z" fill="none" stroke="#000" stroke-width="1.5" stroke-linejoin="miter"/>
<path d="M270.9 512.13L275.7 520.43H266.1Z" fill="none" stroke="#000" stroke-width="1.5" stroke-linejoin="miter"/>
<path d="M324.3 455.03L329.1 463.33H319.5Z" fill="none" stroke="#000" stroke-width="1.5" stroke-linejoin="miter"/>
<path d="M377.7 439.24L382.5 447.54H372.9Z" fill="none" stroke="#000" stroke-width="1.5" stroke-linejoin="miter"/>
<path d="M431.1 473.17L435.9 481.47H426.3Z" fill="none" stroke="#000" stroke-width="1.5" stroke-linejoin="miter"/>
<path d="M484.4 482.24L489.2 490.54H479.6Z" fill="none" stroke="#000" stroke-width="1.5" stroke-linejoin="miter"/>
<path d="M537.8 507.09L542.6 515.39H533.0Z" fill="none" stroke="#000" stroke-width="1.5" stroke-linejoin="miter"/>
<rect x="391.5" y="587.0" width="157.1" height="149.3" fill="#fff" stroke="#111" stroke-width="1"/>
<circle cx="416.0" cy="603.6" r="4.1" fill="none" stroke="#000" stroke-width="1.5"/>
<text transform="translate(440.4,614.3) scale(0.93,1)" font-size="21.5" fill="#000">1<tspan font-size="15.5" dy="-9.4">st</tspan><tspan dy="9.4" dx="1.3"> Test case</tspan></text>
<rect x="412.65" y="629.25" width="6.7" height="6.7" fill="none" stroke="#000" stroke-width="1.5"/>
<text transform="translate(440.4,643.3) scale(0.93,1)" font-size="21.5" fill="#000">2<tspan font-size="15.5" dy="-9.4">nd</tspan><tspan dy="9.4" dx="1.3"> Test case</tspan></text>
<path d="M412.0 661.9h8.0M416.0 657.9v8.0M413.17 659.07l5.66 5.66M413.17 664.73l5.66 -5.66" stroke="#000" stroke-width="1.3" fill="none"/>
<text transform="translate(440.4,672.4) scale(0.93,1)" font-size="21.5" fill="#000">3<tspan font-size="15.5" dy="-9.4">rd</tspan><tspan dy="9.4" dx="1.3"> Test case</tspan></text>
<path d="M413.1 688.6l5.8 5.8M413.1 694.4l5.8 -5.8" stroke="#000" stroke-width="1.5" fill="none"/>
<text transform="translate(440.4,701.4) scale(0.93,1)" font-size="21.5" fill="#000">4<tspan font-size="15.5" dy="-9.4">th</tspan><tspan dy="9.4" dx="1.3"> Test case</tspan></text>
<path d="M416.0 714.72L420.8 723.02H411.2Z" fill="none" stroke="#000" stroke-width="1.5" stroke-linejoin="miter"/>
<text transform="translate(440.4,730.2) scale(0.93,1)" font-size="21.5" fill="#000">5<tspan font-size="15.5" dy="-9.4">th</tspan><tspan dy="9.4" dx="1.3"> Test case</tspan></text>
</svg>
</body></html>
